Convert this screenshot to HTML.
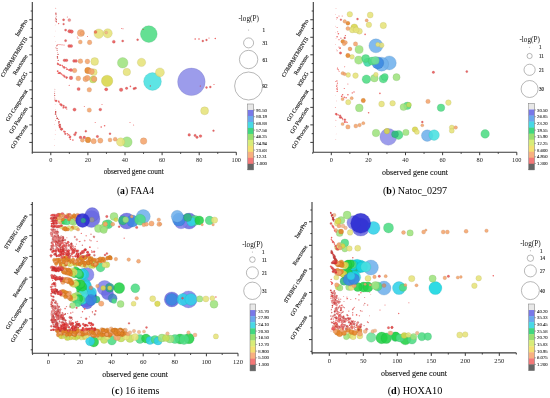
<!DOCTYPE html>
<html><head><meta charset="utf-8"><style>
html,body{margin:0;padding:0;background:#fff;width:550px;height:398px;overflow:hidden}
svg{display:block;font-family:'Liberation Serif',serif;will-change:transform}
</style></head><body>
<svg width="550" height="398" viewBox="0 0 550 398">
<rect width="550" height="398" fill="#fff"/>
<style>.r{fill:#ea5555;stroke:#af3f3f}.dr{fill:#c83a3a;stroke:#962b2b}.lr{fill:#ee8a8a;stroke:#b26767}.pr{fill:#f08484;stroke:#b46363}.or{fill:#f07050;stroke:#b4543c}.rr{fill:#e03030;stroke:#a82424}.pk{fill:#d87070;stroke:#a25454}.o{fill:#f4a46c;stroke:#b77b51}.o2{fill:#f2b486;stroke:#b58764}.do{fill:#e58428;stroke:#ab631e}.br{fill:#c49070;stroke:#936c54}.y{fill:#e6e27a;stroke:#aca95b}.oy{fill:#d8d64a;stroke:#a2a037}.yg{fill:#c4df5a;stroke:#93a743}.lg{fill:#9ee27e;stroke:#76a95e}.lg2{fill:#6fe098;stroke:#53a872}.g{fill:#4fdc84;stroke:#3ba563}.gg{fill:#22d046;stroke:#199c34}.tg{fill:#2fb87e;stroke:#238a5e}.cg{fill:#3cd8a4;stroke:#2da27b}.c{fill:#48e0e0;stroke:#36a8a8}.cy{fill:#30d0e8;stroke:#249cae}.cy2{fill:#12d6e0;stroke:#0da0a8}.lb{fill:#70b0ec;stroke:#5484b1}.bb{fill:#3a88e0;stroke:#2b66a8}.b{fill:#8e8ee8;stroke:#6a6aae}.pb{fill:#6a6ae2;stroke:#4f4fa9}.pb2{fill:#8282ea;stroke:#6161af}.pu{fill:#8080e8;stroke:#6060ae}.db{fill:#2a2ad2;stroke:#1f1f9d}.tl{fill:#2f9f8f;stroke:#23776b}.gr{fill:#959595;stroke:#6f6f6f}.bt{fill:#4080c0;stroke:#306090}</style><defs>
<clipPath id="ca"><rect x="32.8" y="2" width="204" height="149.8"/></clipPath>
<clipPath id="cb"><rect x="313.8" y="2" width="204" height="149.8"/></clipPath>
<clipPath id="cc"><rect x="32.8" y="202" width="206" height="150.9"/></clipPath>
<clipPath id="cd"><rect x="312.5" y="202" width="205" height="150.5"/></clipPath>
</defs><g clip-path="url(#ca)"><g fill-opacity="0.88" stroke-opacity=".6" stroke-width=".35"><circle class="b" cx="191.4" cy="81.8" r="13.8"/><circle class="c" cx="152.5" cy="81.5" r="8.9"/><circle class="g" cx="148.8" cy="34.1" r="8.4"/><circle class="oy" cx="107.1" cy="80.9" r="5.7"/><circle class="lg" cx="122.7" cy="62.8" r="5.3"/><circle class="lg" cx="127" cy="142" r="5.2"/><circle class="y" cx="98.8" cy="33.7" r="4.8"/><circle class="y" cx="107.7" cy="33.3" r="4.6"/><circle class="y" cx="159.9" cy="72.4" r="4.5"/><circle class="y" cx="141.5" cy="62.4" r="4.2"/><circle class="y" cx="120.6" cy="142" r="4.2"/><circle class="y" cx="204.6" cy="110.8" r="4.0"/><circle class="y" cx="94.7" cy="61.5" r="3.9"/><circle class="y" cx="126.8" cy="72" r="3.8"/><circle class="o" cx="80.9" cy="33" r="3.6"/><circle class="yg" cx="93" cy="79.5" r="3.5"/><circle class="y" cx="93.8" cy="72.2" r="3.4"/><circle class="o" cx="143.6" cy="141.1" r="3.3"/><circle class="do" cx="87.9" cy="70.5" r="3.2"/><circle class="o" cx="91.3" cy="71.6" r="3.0"/></g><g fill-opacity="0.88" stroke-opacity=".6" stroke-width=".35"><circle class="o" cx="85.7" cy="79" r="2.8"/><circle class="o" cx="94.2" cy="79" r="2.8"/><circle class="do" cx="88" cy="139.9" r="2.8"/><circle class="o" cx="87.4" cy="77.9" r="2.6"/><circle class="o" cx="93.7" cy="141.2" r="2.6"/><circle class="o" cx="100.3" cy="140.6" r="2.6"/><circle class="o" cx="80.4" cy="61.2" r="2.4"/><circle class="o" cx="87.4" cy="61.5" r="2.4"/><circle class="o" cx="78.3" cy="78.4" r="2.4"/><circle class="o" cx="89.6" cy="42.4" r="2.3"/><circle class="o" cx="74.6" cy="70.5" r="2.3"/><circle class="o" cx="89.3" cy="89.8" r="2.3"/><circle class="o" cx="89.3" cy="110.1" r="2.2"/><circle class="o" cx="82" cy="33.3" r="2.0"/><circle class="o" cx="80.3" cy="42" r="2.0"/><circle class="o" cx="82.4" cy="140.3" r="2.0"/><circle class="o" cx="110" cy="139.9" r="2.0"/><circle class="o" cx="115.2" cy="139.2" r="2.0"/><circle class="r" cx="69.6" cy="31.2" r="1.8"/><circle class="r" cx="71.6" cy="31.6" r="1.8"/><circle class="r" cx="71" cy="77.9" r="1.8"/><circle class="r" cx="121.1" cy="89.8" r="1.8"/><circle class="r" cx="71" cy="70" r="1.6"/><circle class="r" cx="106.2" cy="89.3" r="1.6"/><circle class="r" cx="78.6" cy="89" r="1.6"/><circle class="r" cx="74.5" cy="109.6" r="1.6"/><circle class="pr" cx="69.3" cy="20.1" r="1.5"/><circle class="or" cx="95.5" cy="31.9" r="1.5"/><circle class="o2" cx="106.2" cy="32.5" r="1.5"/><circle class="r" cx="113.8" cy="41.7" r="1.5"/><circle class="r" cx="69.2" cy="45.9" r="1.5"/><circle class="r" cx="71.2" cy="45.9" r="1.5"/><circle class="r" cx="64.5" cy="60.3" r="1.4"/><circle class="r" cx="66.5" cy="60.3" r="1.4"/><circle class="r" cx="74" cy="61" r="1.4"/><circle class="r" cx="76" cy="61" r="1.4"/><circle class="r" cx="100.3" cy="109.6" r="1.4"/><circle class="r" cx="80.5" cy="137.4" r="1.4"/><circle class="r" cx="200.5" cy="136.1" r="1.4"/><circle class="r" cx="84.3" cy="137.4" r="1.3"/><circle class="r" cx="189.2" cy="134.9" r="1.3"/><circle class="r" cx="126.6" cy="88.3" r="1.2"/><circle class="r" cx="74.8" cy="134.6" r="1.2"/><circle class="r" cx="97.4" cy="136.5" r="1.2"/><circle class="r" cx="195.1" cy="135.4" r="1.2"/><circle class="r" cx="197" cy="137.3" r="1.2"/></g><g fill-opacity="0.9" stroke-opacity=".6" stroke-width=".35"><circle class="r" cx="61.3" cy="129.3" r="1.1"/><circle class="r" cx="60" cy="127.1" r="1.1"/><circle class="r" cx="61.8" cy="129.1" r="1.1"/><circle class="r" cx="63.6" cy="19.8" r="1.1"/><circle class="r" cx="65.6" cy="30.1" r="1.1"/><circle class="r" cx="122.7" cy="41" r="1.1"/><circle class="r" cx="65.6" cy="40.7" r="1.1"/><circle class="r" cx="134" cy="88.7" r="1.1"/><circle class="r" cx="135.5" cy="88.2" r="1.1"/><circle class="r" cx="59.6" cy="125.4" r="1.1"/><circle class="r" cx="69.8" cy="137.2" r="1.0"/><circle class="r" cx="137.6" cy="39.7" r="1.0"/><circle class="r" cx="202.8" cy="41" r="1.0"/><circle class="r" cx="206.5" cy="87.5" r="1.0"/><circle class="r" cx="210.3" cy="87" r="1.0"/><circle class="r" cx="75.8" cy="132.7" r="1.0"/><circle class="r" cx="110" cy="133.7" r="1.0"/><circle class="r" cx="85.8" cy="131.2" r="1.0"/><circle class="r" cx="64.3" cy="67.6" r="1.0"/><circle class="r" cx="61.4" cy="105.2" r="1.0"/><circle class="r" cx="65.3" cy="133.8" r="0.9"/><circle class="r" cx="59.9" cy="72.9" r="0.9"/><circle class="r" cx="64.5" cy="76.5" r="0.9"/><circle class="r" cx="63.6" cy="105.9" r="0.9"/><circle class="r" cx="58.1" cy="64.2" r="0.9"/><circle class="r" cx="65.9" cy="107.5" r="0.9"/><circle class="r" cx="56.2" cy="100.9" r="0.9"/><circle class="r" cx="66.5" cy="77.4" r="0.9"/><circle class="r" cx="63.6" cy="24.1" r="0.9"/><circle class="r" cx="206.5" cy="40" r="0.9"/><circle class="r" cx="213.5" cy="130.7" r="0.9"/></g><g fill-opacity="0.9" stroke-width="0"><circle class="dr" cx="57.2" cy="118.3" r="0.9"/><circle class="r" cx="57.7" cy="71.2" r="0.9"/><circle class="r" cx="67" cy="69.2" r="0.9"/><circle class="r" cx="63.4" cy="107.7" r="0.9"/><circle class="r" cx="58.5" cy="73.2" r="0.9"/><circle class="dr" cx="59" cy="121.8" r="0.9"/><circle class="r" cx="58.7" cy="101.5" r="0.9"/><circle class="r" cx="60.5" cy="65.2" r="0.9"/><circle class="r" cx="66.6" cy="78" r="0.8"/><circle class="r" cx="70.4" cy="139.3" r="0.8"/><circle class="r" cx="64.5" cy="132" r="0.8"/><circle class="r" cx="59.8" cy="127.5" r="0.8"/><circle class="r" cx="61.5" cy="104.5" r="0.8"/><circle class="r" cx="63.1" cy="75.5" r="0.8"/><circle class="r" cx="64" cy="131.4" r="0.8"/><circle class="r" cx="130.4" cy="86.4" r="0.8"/><circle class="r" cx="195.2" cy="39" r="0.8"/><circle class="r" cx="199" cy="39" r="0.8"/><circle class="r" cx="215.3" cy="38.5" r="0.8"/><circle class="r" cx="101.2" cy="127" r="0.8"/><circle class="r" cx="104.6" cy="125.8" r="0.8"/><circle class="r" cx="69" cy="70.2" r="0.8"/><circle class="r" cx="59.5" cy="73.1" r="0.8"/><circle class="dr" cx="56.2" cy="21.2" r="0.8"/><circle class="r" cx="72.9" cy="140.1" r="0.8"/><circle class="r" cx="69.9" cy="69.6" r="0.8"/><circle class="r" cx="67.4" cy="133.7" r="0.8"/><circle class="r" cx="63" cy="66.7" r="0.8"/><circle class="r" cx="60.7" cy="104" r="0.8"/><circle class="r" cx="55.3" cy="100.7" r="0.8"/><circle class="r" cx="61.1" cy="73.7" r="0.8"/><circle class="dr" cx="55.7" cy="111.9" r="0.8"/><circle class="dr" cx="57.4" cy="56.7" r="0.7"/><circle class="r" cx="69.7" cy="135.3" r="0.7"/><circle class="dr" cx="58.8" cy="123.1" r="0.7"/><circle class="dr" cx="55.8" cy="114.1" r="0.7"/><circle class="r" cx="62.3" cy="65.5" r="0.7"/><circle class="r" cx="59.6" cy="65.1" r="0.7"/><circle class="dr" cx="55.9" cy="13.2" r="0.7"/><circle class="r" cx="58.6" cy="23.6" r="0.7"/><circle class="r" cx="60.1" cy="104.4" r="0.7"/><circle class="dr" cx="57.5" cy="58" r="0.7"/><circle class="r" cx="62" cy="74.5" r="0.7"/><circle class="r" cx="70.6" cy="136.8" r="0.7"/><circle class="r" cx="68.5" cy="134.6" r="0.7"/><circle class="r" cx="61.2" cy="129.2" r="0.7"/><circle class="dr" cx="58" cy="54.4" r="0.7"/><circle class="r" cx="57.5" cy="63.3" r="0.7"/><circle class="r" cx="65.2" cy="131.7" r="0.6"/><circle class="dr" cx="55.4" cy="113.9" r="0.6"/><circle class="r" cx="68.1" cy="69.5" r="0.6"/><circle class="r" cx="63.9" cy="75.1" r="0.6"/><circle class="r" cx="59.4" cy="102.8" r="0.6"/><circle class="r" cx="67.9" cy="135.3" r="0.6"/><circle class="dr" cx="143.1" cy="29.5" r="0.6"/><circle class="r" cx="58" cy="44.5" r="0.6"/><circle class="r" cx="60" cy="44.6" r="0.6"/><circle class="r" cx="62" cy="44.8" r="0.6"/><circle class="r" cx="64" cy="45" r="0.6"/><circle class="dr" cx="150.3" cy="85.9" r="0.6"/><circle class="dr" cx="200.3" cy="86" r="0.6"/><circle class="r" cx="209" cy="38" r="0.6"/><circle class="r" cx="214" cy="84.5" r="0.6"/><circle class="r" cx="69.2" cy="85.3" r="0.6"/><circle class="dr" cx="57" cy="48.7" r="0.6"/><circle class="r" cx="66.8" cy="109.1" r="0.6"/><circle class="r" cx="66.1" cy="67.7" r="0.6"/><circle class="dr" cx="54.7" cy="95.3" r="0.6"/><circle class="dr" cx="56" cy="14.7" r="0.6"/><circle class="dr" cx="56.3" cy="19.4" r="0.6"/><circle class="dr" cx="55.5" cy="112.1" r="0.6"/><circle class="r" cx="56.7" cy="100.5" r="0.6"/><circle class="dr" cx="55.8" cy="18.2" r="0.6"/><circle class="dr" cx="58.2" cy="60.4" r="0.6"/><circle class="dr" cx="56.5" cy="116.1" r="0.6"/><circle class="dr" cx="57" cy="45.4" r="0.6"/><circle class="dr" cx="59.5" cy="124.6" r="0.5"/><circle class="r" cx="59" cy="64.2" r="0.5"/><circle class="r" cx="63.8" cy="66.8" r="0.5"/><circle class="r" cx="67.3" cy="77.2" r="0.5"/><circle class="dr" cx="58.7" cy="119.6" r="0.5"/><circle class="r" cx="64.3" cy="107.2" r="0.5"/><circle class="r" cx="67.3" cy="17.1" r="0.5"/><circle class="r" cx="121.7" cy="28.6" r="0.5"/><circle class="r" cx="123" cy="28.8" r="0.5"/><circle class="r" cx="78" cy="38.3" r="0.5"/><circle class="r" cx="77.3" cy="37" r="0.5"/><circle class="r" cx="87.5" cy="36.5" r="0.5"/><circle class="r" cx="84.3" cy="106.4" r="0.5"/><circle class="r" cx="102" cy="104.5" r="0.5"/><circle class="r" cx="95.2" cy="122.4" r="0.5"/><circle class="r" cx="130" cy="122.6" r="0.5"/><circle class="r" cx="133.6" cy="125" r="0.5"/><circle class="lr" cx="55.5" cy="120.6" r="0.5"/><circle class="lr" cx="55.7" cy="8.2" r="0.5"/><circle class="dr" cx="57.1" cy="50.4" r="0.5"/><circle class="dr" cx="60.4" cy="124.3" r="0.5"/><circle class="lr" cx="55.2" cy="20" r="0.5"/><circle class="dr" cx="54.9" cy="99" r="0.5"/><circle class="dr" cx="54.6" cy="93.3" r="0.5"/><circle class="lr" cx="55.7" cy="47.7" r="0.5"/><circle class="dr" cx="54.9" cy="89.2" r="0.4"/><circle class="lr" cx="55.6" cy="130.1" r="0.4"/><circle class="dr" cx="56.2" cy="16.5" r="0.4"/><circle class="dr" cx="54.8" cy="91.2" r="0.4"/><circle class="lr" cx="54.5" cy="124.7" r="0.4"/><circle class="lr" cx="55.6" cy="109.8" r="0.4"/><circle class="dr" cx="56.8" cy="46.8" r="0.4"/><circle class="dr" cx="56.3" cy="22.7" r="0.4"/><circle class="dr" cx="54.8" cy="97.1" r="0.4"/><circle class="dr" cx="57.9" cy="118.1" r="0.4"/><circle class="lr" cx="55.2" cy="24.9" r="0.4"/><circle class="dr" cx="57.5" cy="52.3" r="0.4"/><circle class="lr" cx="55.2" cy="134.7" r="0.4"/><circle class="lr" cx="54.7" cy="145.6" r="0.4"/><circle class="lr" cx="55.3" cy="13.4" r="0.4"/><circle class="lr" cx="55.6" cy="31" r="0.3"/><circle class="lr" cx="54.7" cy="100" r="0.3"/><circle class="lr" cx="54.8" cy="139.7" r="0.3"/><circle class="lr" cx="55.6" cy="41.6" r="0.3"/><circle class="lr" cx="54.7" cy="36.2" r="0.3"/><circle class="lr" cx="54.9" cy="114.8" r="0.3"/><circle class="lr" cx="55.2" cy="104.4" r="0.3"/></g></g><g clip-path="url(#cb)"><g fill-opacity="0.88" stroke-opacity=".6" stroke-width=".35"><circle class="b" cx="388.3" cy="136.9" r="8.4"/><circle class="lb" cx="375.9" cy="45.8" r="7.0"/><circle class="lb" cx="389.3" cy="62.9" r="7.0"/><circle class="lb" cx="381.6" cy="64.2" r="7.0"/><circle class="bb" cx="377.8" cy="62.9" r="6.0"/><circle class="lb" cx="427.2" cy="135.6" r="5.8"/><circle class="c" cx="434.1" cy="135.1" r="5.3"/><circle class="g" cx="398.5" cy="134.9" r="4.5"/><circle class="g" cx="366.4" cy="79.2" r="4.3"/><circle class="g" cx="485.1" cy="133.9" r="4.3"/><circle class="cg" cx="367.6" cy="62.3" r="4.2"/><circle class="lg" cx="359.1" cy="49.5" r="4.1"/><circle class="lg" cx="358.7" cy="60.1" r="4.1"/><circle class="g" cx="383.3" cy="78.8" r="4.1"/><circle class="g" cx="365.7" cy="58.5" r="4.0"/><circle class="g" cx="372.1" cy="61" r="4.0"/><circle class="lg2" cx="375.3" cy="60.4" r="4.0"/><circle class="lg" cx="359.3" cy="107.9" r="3.9"/><circle class="lg" cx="374.4" cy="78.2" r="3.8"/><circle class="g" cx="407.3" cy="105.8" r="3.8"/><circle class="g" cx="441" cy="107.7" r="3.8"/><circle class="lg" cx="376" cy="133" r="3.8"/><circle class="lg" cx="396.5" cy="77.2" r="3.6"/><circle class="oy" cx="354.3" cy="27.4" r="3.5"/><circle class="g" cx="384.8" cy="76.9" r="3.5"/><circle class="lg" cx="403.5" cy="107.1" r="3.5"/><circle class="tg" cx="395" cy="134.2" r="3.5"/><circle class="y" cx="383.3" cy="25.5" r="3.2"/><circle class="lg" cx="405.9" cy="132.4" r="3.2"/><circle class="y" cx="370.2" cy="15" r="3.0"/><circle class="y" cx="352.4" cy="29.9" r="3.0"/><circle class="y" cx="359.4" cy="31.2" r="3.0"/><circle class="y" cx="356.2" cy="29.9" r="3.0"/></g><g fill-opacity="0.88" stroke-opacity=".6" stroke-width=".35"><circle class="y" cx="381.6" cy="104" r="2.9"/><circle class="y" cx="349.8" cy="14.3" r="2.8"/><circle class="y" cx="368.9" cy="24.8" r="2.8"/><circle class="y" cx="355.5" cy="75.6" r="2.8"/><circle class="y" cx="392.6" cy="103.3" r="2.8"/><circle class="y" cx="448.4" cy="102.6" r="2.8"/><circle class="oy" cx="386.9" cy="131.1" r="2.8"/><circle class="oy" cx="415" cy="129.5" r="2.8"/><circle class="y" cx="348.2" cy="102.2" r="2.6"/><circle class="y" cx="381.6" cy="45.2" r="2.5"/><circle class="yg" cx="408.9" cy="104.8" r="2.5"/><circle class="y" cx="416.9" cy="131.9" r="2.5"/><circle class="y" cx="451.8" cy="127.5" r="2.5"/><circle class="y" cx="451.8" cy="130.7" r="2.5"/><circle class="y" cx="352" cy="56.8" r="2.4"/><circle class="y" cx="348.2" cy="75" r="2.4"/><circle class="y" cx="375.9" cy="74.6" r="2.3"/><circle class="o" cx="355.5" cy="43.9" r="2.2"/><circle class="y" cx="377.8" cy="44.5" r="2.2"/><circle class="do" cx="347.9" cy="55.5" r="2.2"/><circle class="do" cx="363.3" cy="100.5" r="2.2"/><circle class="o" cx="428" cy="101.4" r="2.2"/><circle class="o" cx="347.9" cy="126.9" r="2.2"/><circle class="do" cx="347.9" cy="23.2" r="2.0"/><circle class="o" cx="347.9" cy="28.6" r="2.0"/><circle class="do" cx="342.8" cy="41.4" r="2.0"/><circle class="o" cx="345.4" cy="42.6" r="2.0"/><circle class="o" cx="355.8" cy="126" r="2.0"/><circle class="o" cx="344.7" cy="21.4" r="1.8"/><circle class="o" cx="344.1" cy="43.9" r="1.8"/><circle class="o" cx="350.2" cy="49" r="1.8"/><circle class="o" cx="349.8" cy="48.9" r="1.8"/><circle class="o" cx="342.8" cy="73.3" r="1.8"/><circle class="o" cx="359.6" cy="125.1" r="1.8"/><circle class="o" cx="455.7" cy="127.5" r="1.8"/><circle class="o" cx="366.7" cy="20.4" r="1.6"/><circle class="o" cx="344.7" cy="74.1" r="1.6"/><circle class="o" cx="342.6" cy="99.1" r="1.6"/><circle class="o" cx="351.7" cy="98.2" r="1.6"/><circle class="o" cx="342.6" cy="124" r="1.6"/><circle class="o" cx="363.3" cy="123.2" r="1.6"/><circle class="o" cx="422.3" cy="125.3" r="1.5"/><circle class="r" cx="340.5" cy="53" r="1.2"/><circle class="r" cx="433.4" cy="72.3" r="1.2"/></g><g fill-opacity="0.9" stroke-opacity=".6" stroke-width=".35"><circle class="r" cx="466.8" cy="71.6" r="1.1"/><circle class="r" cx="357.5" cy="19.1" r="1.0"/><circle class="r" cx="422.3" cy="122.1" r="1.0"/><circle class="r" cx="336.1" cy="114.1" r="1.0"/><circle class="r" cx="341.1" cy="117.6" r="1.0"/><circle class="r" cx="344.9" cy="119.7" r="1.0"/><circle class="r" cx="340" cy="117.4" r="0.9"/><circle class="r" cx="340.1" cy="115.7" r="0.9"/><circle class="r" cx="340.9" cy="19.7" r="0.9"/><circle class="r" cx="344.7" cy="37.9" r="0.9"/></g><g fill-opacity="0.9" stroke-width="0"><circle class="r" cx="336.7" cy="114.5" r="0.9"/><circle class="r" cx="344.7" cy="122" r="0.9"/><circle class="r" cx="346" cy="122" r="0.8"/><circle class="r" cx="365.1" cy="34.4" r="0.8"/><circle class="r" cx="338.4" cy="33.7" r="0.8"/><circle class="r" cx="337.1" cy="36.7" r="0.8"/><circle class="r" cx="340.3" cy="48.1" r="0.8"/><circle class="r" cx="342.6" cy="94.7" r="0.8"/><circle class="r" cx="341.7" cy="96.4" r="0.8"/><circle class="r" cx="344.3" cy="97.3" r="0.8"/><circle class="r" cx="346.1" cy="97.7" r="0.8"/><circle class="r" cx="347.9" cy="94.7" r="0.8"/><circle class="r" cx="379.9" cy="93.4" r="0.8"/><circle class="r" cx="368.6" cy="112.8" r="0.8"/><circle class="r" cx="338.3" cy="114.9" r="0.7"/><circle class="r" cx="337.2" cy="91.4" r="0.7"/><circle class="r" cx="337.1" cy="17.8" r="0.7"/><circle class="r" cx="345.4" cy="35.6" r="0.7"/><circle class="r" cx="352.3" cy="92.9" r="0.7"/><circle class="r" cx="354" cy="92" r="0.7"/><circle class="r" cx="337.5" cy="68.9" r="0.7"/><circle class="r" cx="337.2" cy="89.6" r="0.7"/><circle class="r" cx="336.9" cy="80.9" r="0.7"/><circle class="r" cx="338.5" cy="69.8" r="0.6"/><circle class="r" cx="337.4" cy="83.2" r="0.6"/><circle class="r" cx="342.6" cy="118.4" r="0.6"/><circle class="r" cx="336.9" cy="88.5" r="0.6"/><circle class="r" cx="336.9" cy="85.7" r="0.6"/><circle class="r" cx="347.2" cy="122.4" r="0.6"/><circle class="r" cx="340.9" cy="38.2" r="0.6"/><circle class="r" cx="339" cy="39.7" r="0.6"/><circle class="r" cx="339" cy="47.1" r="0.6"/><circle class="r" cx="344.3" cy="88.5" r="0.6"/><circle class="r" cx="342.8" cy="119.7" r="0.6"/><circle class="r" cx="336.6" cy="86.4" r="0.5"/><circle class="r" cx="339" cy="15.9" r="0.5"/><circle class="r" cx="342.2" cy="15.9" r="0.5"/><circle class="r" cx="337.1" cy="27.4" r="0.5"/><circle class="r" cx="337.7" cy="31.8" r="0.5"/><circle class="r" cx="337.1" cy="50.8" r="0.5"/><circle class="r" cx="339.6" cy="48.3" r="0.5"/><circle class="r" cx="335.8" cy="81.4" r="0.5"/><circle class="r" cx="347.9" cy="83.9" r="0.5"/><circle class="r" cx="344.7" cy="66.7" r="0.5"/><circle class="lr" cx="335.9" cy="120.2" r="0.5"/><circle class="r" cx="337.3" cy="87.8" r="0.5"/><circle class="r" cx="339.1" cy="71.2" r="0.5"/><circle class="lr" cx="335.4" cy="107.6" r="0.5"/><circle class="lr" cx="336.5" cy="19.6" r="0.4"/><circle class="lr" cx="336.5" cy="100.9" r="0.4"/><circle class="lr" cx="335.5" cy="14.4" r="0.4"/><circle class="lr" cx="335.6" cy="113.9" r="0.4"/><circle class="lr" cx="336" cy="8.5" r="0.4"/><circle class="r" cx="337.4" cy="67.7" r="0.4"/><circle class="r" cx="337" cy="84.4" r="0.4"/><circle class="r" cx="337" cy="89.8" r="0.4"/><circle class="lr" cx="335.8" cy="139.4" r="0.4"/><circle class="lr" cx="335.7" cy="44.5" r="0.4"/><circle class="lr" cx="336.3" cy="49.4" r="0.4"/><circle class="lr" cx="335.6" cy="126.6" r="0.4"/><circle class="lr" cx="335.5" cy="26.2" r="0.4"/><circle class="lr" cx="336" cy="38.4" r="0.3"/><circle class="lr" cx="336.1" cy="133.9" r="0.3"/><circle class="lr" cx="335.7" cy="32.5" r="0.3"/><circle class="lr" cx="335.6" cy="95.2" r="0.3"/></g></g><g clip-path="url(#cc)"><g fill-opacity="0.88" stroke-opacity=".6" stroke-width=".35"><circle class="db" cx="86.5" cy="297" r="10.2"/><circle class="pb" cx="91.5" cy="219.1" r="8.5"/><circle class="pb2" cx="188.5" cy="299.4" r="8.5"/><circle class="pb" cx="126.7" cy="221" r="8.0"/><circle class="pb" cx="189.1" cy="221.1" r="8.0"/><circle class="pb2" cx="104.6" cy="288" r="7.5"/><circle class="pb" cx="171.8" cy="299.4" r="7.5"/><circle class="pb2" cx="86.8" cy="274.7" r="7.2"/><circle class="pb" cx="92.2" cy="214.6" r="7.0"/><circle class="lb" cx="143.3" cy="216.5" r="7.0"/><circle class="pu" cx="181.1" cy="221.8" r="7.0"/><circle class="bb" cx="178.9" cy="219.6" r="6.5"/><circle class="bb" cx="132.5" cy="221" r="6.0"/><circle class="lb" cx="177.2" cy="216.3" r="6.0"/><circle class="pb" cx="87" cy="303" r="6.0"/><circle class="pb" cx="107.5" cy="293.8" r="6.0"/><circle class="bb" cx="171.8" cy="299.4" r="6.0"/><circle class="cy" cx="183" cy="299.4" r="6.0"/><circle class="cy" cx="190.9" cy="299.4" r="6.0"/><circle class="cy" cx="84.7" cy="284.5" r="5.9"/><circle class="cy" cx="82.2" cy="299.2" r="5.5"/><circle class="g" cx="140.1" cy="219.7" r="5.5"/><circle class="cy" cx="86" cy="286" r="5.5"/><circle class="gg" cx="119.2" cy="288" r="5.5"/><circle class="cy" cx="83.5" cy="274.6" r="5.5"/><circle class="cy" cx="82.5" cy="274" r="5.4"/><circle class="cy" cx="85.1" cy="286.4" r="5.4"/><circle class="gg" cx="189" cy="338.5" r="5.2"/><circle class="cy" cx="81.3" cy="274.6" r="5.2"/><circle class="cy" cx="83.2" cy="298.8" r="5.0"/><circle class="g" cx="194.9" cy="220.4" r="5.0"/><circle class="gg" cx="81.5" cy="290" r="5.0"/><circle class="c" cx="83.5" cy="294" r="5.0"/><circle class="gg" cx="93.7" cy="341.9" r="5.0"/><circle class="gg" cx="180" cy="339" r="5.0"/><circle class="g" cx="184" cy="339.5" r="5.0"/><circle class="gg" cx="75.9" cy="271.8" r="4.7"/><circle class="gg" cx="76.8" cy="298" r="4.5"/><circle class="g" cx="108.3" cy="224.2" r="4.5"/><circle class="tg" cx="122.9" cy="220.4" r="4.5"/><circle class="cy" cx="191.3" cy="221.8" r="4.5"/><circle class="gg" cx="199.3" cy="220.4" r="4.5"/><circle class="g" cx="100.5" cy="267.4" r="4.5"/><circle class="cy" cx="92" cy="292" r="4.5"/><circle class="tl" cx="109.7" cy="287.7" r="4.5"/><circle class="bt" cx="112.6" cy="298.2" r="4.5"/><circle class="g" cx="135.3" cy="288.2" r="4.5"/><circle class="cy" cx="90.1" cy="341.2" r="4.5"/><circle class="g" cx="111.9" cy="340.5" r="4.5"/><circle class="g" cx="140" cy="339" r="4.5"/><circle class="gg" cx="146" cy="338.5" r="4.5"/><circle class="g" cx="175" cy="339" r="4.5"/><circle class="gg" cx="82.3" cy="286.7" r="4.5"/><circle class="g" cx="75.9" cy="299.1" r="4.3"/><circle class="lg" cx="77.4" cy="296.2" r="4.3"/><circle class="g" cx="209.5" cy="220.4" r="4.3"/><circle class="gg" cx="78.8" cy="285.3" r="4.3"/><circle class="g" cx="80.6" cy="299.6" r="4.1"/><circle class="lg" cx="80.3" cy="283.4" r="4.1"/><circle class="gg" cx="74.8" cy="273.8" r="4.0"/><circle class="gg" cx="78.8" cy="298.6" r="4.0"/><circle class="g" cx="106.2" cy="224.2" r="4.0"/><circle class="lg" cx="98.5" cy="228.6" r="4.0"/><circle class="lg" cx="103.6" cy="228" r="4.0"/><circle class="lg" cx="114" cy="216.5" r="4.0"/><circle class="tg" cx="187.6" cy="217.5" r="4.0"/><circle class="lg" cx="214" cy="304.2" r="4.0"/><circle class="yg" cx="121" cy="338" r="4.0"/><circle class="yg" cx="130" cy="338.5" r="4.0"/><circle class="cy" cx="150" cy="340.5" r="4.0"/><circle class="g" cx="155" cy="339.5" r="4.0"/><circle class="cy" cx="158" cy="341" r="4.0"/><circle class="lg" cx="162" cy="338" r="4.0"/><circle class="lg" cx="170" cy="339" r="4.0"/><circle class="lg" cx="74.4" cy="273.1" r="4.0"/><circle class="gg" cx="80.9" cy="284.1" r="4.0"/><circle class="gg" cx="79.8" cy="274.7" r="4.0"/><circle class="gg" cx="78.2" cy="272.7" r="3.9"/><circle class="gg" cx="77.3" cy="272.9" r="3.9"/><circle class="g" cx="78.6" cy="273.6" r="3.8"/><circle class="gg" cx="76.7" cy="283.2" r="3.7"/><circle class="lg" cx="103.8" cy="229.9" r="3.5"/><circle class="tg" cx="96.5" cy="299.4" r="3.5"/><circle class="g" cx="76" cy="299" r="3.5"/><circle class="lg" cx="120.6" cy="304" r="3.5"/><circle class="yg" cx="100.3" cy="336.8" r="3.5"/><circle class="yg" cx="104" cy="340" r="3.5"/><circle class="o" cx="117" cy="337" r="3.5"/><circle class="y" cx="126" cy="336.5" r="3.5"/><circle class="y" cx="135" cy="337" r="3.5"/><circle class="yg" cx="166" cy="338" r="3.5"/><circle class="lg" cx="74" cy="222" r="3.3"/><circle class="lg" cx="71.5" cy="221.5" r="3.2"/><circle class="y" cx="214.5" cy="220.1" r="3.2"/><circle class="g" cx="78" cy="303.5" r="3.2"/><circle class="lg" cx="199.7" cy="298.9" r="3.2"/><circle class="y" cx="74.1" cy="272.2" r="3.2"/><circle class="y" cx="74.5" cy="284" r="3.1"/><circle class="y" cx="71.7" cy="273.1" r="3.1"/><circle class="yg" cx="71.7" cy="298.4" r="3.0"/><circle class="y" cx="72.2" cy="270.7" r="3.0"/><circle class="gg" cx="64" cy="221.5" r="3.0"/><circle class="g" cx="67" cy="222" r="3.0"/><circle class="lg" cx="125.7" cy="219.7" r="3.0"/><circle class="yg" cx="106.8" cy="264.8" r="3.0"/><circle class="lg" cx="72.6" cy="305.5" r="3.0"/><circle class="y" cx="152.7" cy="298.7" r="3.0"/><circle class="y" cx="205.9" cy="298.9" r="3.0"/><circle class="y" cx="107.5" cy="336.8" r="3.0"/></g><g fill-opacity="0.88" stroke-opacity=".6" stroke-width=".35"><circle class="y" cx="72.7" cy="282.8" r="3.0"/><circle class="yg" cx="73.8" cy="284.4" r="2.9"/><circle class="yg" cx="73.6" cy="271.8" r="2.9"/><circle class="y" cx="72.3" cy="284" r="2.8"/><circle class="y" cx="75.2" cy="283.1" r="2.8"/><circle class="oy" cx="157.4" cy="303.7" r="2.8"/><circle class="oy" cx="70.9" cy="273.2" r="2.7"/><circle class="o" cx="101.2" cy="303.6" r="2.7"/><circle class="oy" cx="72.9" cy="297.4" r="2.7"/><circle class="y" cx="70.5" cy="297.1" r="2.6"/><circle class="y" cx="74.8" cy="297.4" r="2.6"/><circle class="yg" cx="72.9" cy="273.9" r="2.6"/><circle class="o" cx="151.5" cy="223.5" r="2.6"/><circle class="y" cx="215.9" cy="336.4" r="2.6"/><circle class="gr" cx="91.9" cy="219.7" r="2.5"/><circle class="y" cx="104.5" cy="265.1" r="2.5"/><circle class="yg" cx="95" cy="262" r="2.5"/><circle class="oy" cx="103.2" cy="288" r="2.5"/><circle class="g" cx="114.1" cy="301" r="2.5"/><circle class="y" cx="133.6" cy="303.7" r="2.5"/><circle class="y" cx="212.3" cy="298.2" r="2.5"/><circle class="y" cx="72.5" cy="298.7" r="2.5"/><circle class="yg" cx="74" cy="295.6" r="2.4"/><circle class="yg" cx="76.7" cy="284" r="2.4"/><circle class="y" cx="90" cy="262" r="2.4"/><circle class="do" cx="65.9" cy="279.7" r="2.4"/><circle class="do" cx="70.5" cy="298.4" r="2.4"/><circle class="oy" cx="93.1" cy="266.2" r="2.4"/><circle class="o" cx="68.8" cy="297.3" r="2.3"/><circle class="do" cx="70.4" cy="273.9" r="2.3"/><circle class="do" cx="67.7" cy="280.9" r="2.3"/><circle class="oy" cx="105.1" cy="223.9" r="2.3"/><circle class="o" cx="159.2" cy="224.2" r="2.3"/><circle class="y" cx="84" cy="264" r="2.3"/><circle class="oy" cx="109.7" cy="288" r="2.3"/><circle class="do" cx="95" cy="264.9" r="2.3"/><circle class="oy" cx="75.1" cy="336.6" r="2.3"/><circle class="yg" cx="69.8" cy="264.4" r="2.3"/><circle class="do" cx="71.9" cy="283.1" r="2.3"/><circle class="oy" cx="61.9" cy="336.8" r="2.2"/><circle class="do" cx="62.7" cy="269.3" r="2.2"/><circle class="do" cx="62.1" cy="291.7" r="2.2"/><circle class="do" cx="66" cy="264.1" r="2.2"/><circle class="y" cx="78.6" cy="337" r="2.2"/><circle class="o" cx="61.5" cy="294.3" r="2.2"/><circle class="oy" cx="66.8" cy="338.2" r="2.2"/><circle class="o" cx="90.1" cy="263" r="2.2"/><circle class="do" cx="103.2" cy="331.3" r="2.2"/><circle class="do" cx="62.2" cy="268.3" r="2.2"/><circle class="do" cx="64.9" cy="264.3" r="2.2"/><circle class="o" cx="119" cy="333.5" r="2.2"/><circle class="do" cx="98.4" cy="331.5" r="2.2"/><circle class="do" cx="89.7" cy="262.2" r="2.2"/><circle class="do" cx="68.7" cy="333.8" r="2.2"/><circle class="do" cx="68.4" cy="261.1" r="2.2"/><circle class="do" cx="78.3" cy="259.6" r="2.2"/><circle class="do" cx="63.7" cy="291.7" r="2.2"/><circle class="do" cx="73.8" cy="335" r="2.2"/><circle class="do" cx="58.1" cy="260.2" r="2.2"/><circle class="do" cx="122" cy="332.2" r="2.2"/><circle class="do" cx="64.9" cy="334" r="2.2"/><circle class="do" cx="92.2" cy="334.7" r="2.2"/><circle class="do" cx="93.7" cy="335.4" r="2.2"/><circle class="do" cx="58.5" cy="334.8" r="2.2"/><circle class="do" cx="121.2" cy="330.5" r="2.2"/><circle class="do" cx="98.7" cy="260.3" r="2.2"/><circle class="o" cx="62.9" cy="282.3" r="2.2"/><circle class="do" cx="76.9" cy="329.7" r="2.2"/><circle class="do" cx="83" cy="332.1" r="2.2"/><circle class="y" cx="69.1" cy="336.7" r="2.2"/><circle class="do" cx="85.2" cy="257.3" r="2.2"/><circle class="o" cx="67.9" cy="279.2" r="2.2"/><circle class="o" cx="96.9" cy="335.5" r="2.2"/><circle class="do" cx="93.4" cy="331.3" r="2.2"/><circle class="do" cx="65.7" cy="229" r="2.2"/><circle class="do" cx="91.3" cy="332.4" r="2.2"/><circle class="y" cx="71.2" cy="264.1" r="2.2"/><circle class="y" cx="73.6" cy="227.5" r="2.2"/><circle class="do" cx="85.3" cy="264" r="2.2"/><circle class="do" cx="75.6" cy="330.9" r="2.1"/><circle class="do" cx="115.1" cy="332.6" r="2.1"/><circle class="do" cx="73.8" cy="333.6" r="2.1"/><circle class="o" cx="107.2" cy="334.6" r="2.1"/><circle class="o" cx="122.3" cy="334.1" r="2.1"/><circle class="do" cx="94.6" cy="335.3" r="2.1"/><circle class="do" cx="68.3" cy="332.4" r="2.1"/><circle class="do" cx="109.7" cy="335.3" r="2.1"/><circle class="y" cx="83.4" cy="336.4" r="2.1"/><circle class="do" cx="69.1" cy="270.5" r="2.1"/><circle class="do" cx="124.3" cy="330.6" r="2.1"/><circle class="do" cx="69.1" cy="334.2" r="2.1"/><circle class="do" cx="119" cy="333.6" r="2.1"/><circle class="o" cx="69.5" cy="293.1" r="2.1"/><circle class="do" cx="92.2" cy="332.3" r="2.1"/><circle class="do" cx="70.4" cy="332.3" r="2.1"/><circle class="do" cx="114.8" cy="330.1" r="2.1"/><circle class="o" cx="85.3" cy="329.9" r="2.1"/><circle class="do" cx="66" cy="270" r="2.1"/><circle class="do" cx="59.7" cy="260" r="2.1"/><circle class="do" cx="120.2" cy="329.9" r="2.1"/><circle class="do" cx="57.6" cy="330.9" r="2.1"/><circle class="do" cx="117.2" cy="331.8" r="2.1"/><circle class="do" cx="65.2" cy="269.5" r="2.1"/><circle class="do" cx="81.1" cy="333.8" r="2.1"/><circle class="do" cx="64.6" cy="331.1" r="2.1"/><circle class="do" cx="84.9" cy="263.1" r="2.1"/><circle class="do" cx="109.9" cy="257.5" r="2.1"/><circle class="do" cx="119.6" cy="333.3" r="2.1"/><circle class="do" cx="62.1" cy="279.9" r="2.1"/><circle class="do" cx="70.2" cy="296.8" r="2.1"/><circle class="do" cx="67.1" cy="281.2" r="2.1"/><circle class="do" cx="66.9" cy="332.4" r="2.1"/><circle class="do" cx="74.2" cy="332.4" r="2.1"/><circle class="do" cx="61" cy="264.1" r="2.1"/><circle class="do" cx="105.8" cy="334.6" r="2.1"/><circle class="do" cx="95.8" cy="331.1" r="2.1"/><circle class="do" cx="102.6" cy="259" r="2.1"/><circle class="do" cx="96.9" cy="330.8" r="2.1"/><circle class="do" cx="105.3" cy="333" r="2.1"/><circle class="do" cx="90.6" cy="259.3" r="2.1"/><circle class="do" cx="94.1" cy="330.1" r="2.1"/><circle class="do" cx="67.2" cy="272" r="2.1"/><circle class="do" cx="70.6" cy="261.4" r="2.1"/><circle class="do" cx="74.7" cy="333.7" r="2.1"/><circle class="yg" cx="90.7" cy="266.4" r="2.1"/><circle class="do" cx="75.1" cy="334.3" r="2.1"/><circle class="do" cx="63.9" cy="228.5" r="2.1"/><circle class="do" cx="64.7" cy="258" r="2.1"/><circle class="do" cx="108.4" cy="334.8" r="2.1"/><circle class="do" cx="102" cy="333.5" r="2.1"/><circle class="do" cx="119.3" cy="331.9" r="2.1"/><circle class="do" cx="57.2" cy="330.1" r="2.1"/><circle class="do" cx="86.5" cy="331.3" r="2.1"/><circle class="do" cx="70.5" cy="280.3" r="2.1"/><circle class="do" cx="67.4" cy="273.2" r="2.1"/><circle class="do" cx="115.2" cy="330.3" r="2.1"/><circle class="do" cx="66.9" cy="292.9" r="2.0"/><circle class="do" cx="80.5" cy="264.3" r="2.0"/><circle class="do" cx="119.9" cy="330.4" r="2.0"/><circle class="oy" cx="85.7" cy="266" r="2.0"/><circle class="do" cx="91.2" cy="261.3" r="2.0"/><circle class="o" cx="66.5" cy="273" r="2.0"/><circle class="do" cx="63.7" cy="258.6" r="2.0"/><circle class="do" cx="73.7" cy="332.1" r="2.0"/><circle class="do" cx="73.6" cy="330.9" r="2.0"/><circle class="o" cx="74.8" cy="263.4" r="2.0"/><circle class="do" cx="77.2" cy="331.7" r="2.0"/><circle class="do" cx="57" cy="262.1" r="2.0"/><circle class="o" cx="64.3" cy="330.4" r="2.0"/><circle class="o" cx="81.4" cy="259.9" r="2.0"/><circle class="o" cx="64.3" cy="332.7" r="2.0"/><circle class="do" cx="125.7" cy="333.2" r="2.0"/><circle class="do" cx="90.5" cy="331.3" r="2.0"/><circle class="o" cx="109.8" cy="332.3" r="2.0"/><circle class="do" cx="69.2" cy="333.9" r="2.0"/><circle class="do" cx="68.8" cy="281.9" r="2.0"/><circle class="do" cx="74.5" cy="262.5" r="2.0"/><circle class="do" cx="64.3" cy="272.1" r="2.0"/><circle class="do" cx="110" cy="257.6" r="2.0"/><circle class="o" cx="67.9" cy="296.5" r="2.0"/><circle class="do" cx="65.7" cy="292.6" r="2.0"/><circle class="do" cx="64.1" cy="262.2" r="2.0"/><circle class="oy" cx="78.1" cy="337" r="2.0"/><circle class="do" cx="118" cy="332.8" r="2.0"/><circle class="yg" cx="88.9" cy="264.8" r="2.0"/><circle class="do" cx="69" cy="219" r="2.0"/><circle class="o" cx="76" cy="219" r="2.0"/><circle class="o" cx="105.5" cy="224.2" r="2.0"/><circle class="o" cx="112.7" cy="224.2" r="2.0"/><circle class="oy" cx="115.9" cy="219.7" r="2.0"/><circle class="o" cx="143.9" cy="224.8" r="2.0"/><circle class="o" cx="146.5" cy="224.2" r="2.0"/><circle class="o" cx="138.5" cy="261.3" r="2.0"/><circle class="br" cx="90.9" cy="287.8" r="2.0"/><circle class="o2" cx="195" cy="335" r="2.0"/><circle class="do" cx="118" cy="334" r="2.0"/><circle class="do" cx="123" cy="334.5" r="2.0"/><circle class="o" cx="128" cy="334" r="2.0"/><circle class="o2" cx="101.7" cy="329.5" r="2.0"/><circle class="o2" cx="111.2" cy="328.8" r="2.0"/><circle class="o2" cx="114.8" cy="331" r="2.0"/><circle class="do" cx="101.8" cy="335" r="2.0"/><circle class="do" cx="104.3" cy="332.9" r="2.0"/><circle class="o" cx="56.3" cy="260.3" r="2.0"/><circle class="do" cx="84.1" cy="334.3" r="2.0"/><circle class="do" cx="71.3" cy="283.6" r="2.0"/><circle class="do" cx="70.3" cy="271.9" r="2.0"/><circle class="do" cx="67.5" cy="259.1" r="2.0"/><circle class="do" cx="65.4" cy="272.4" r="2.0"/><circle class="do" cx="65.4" cy="262" r="2.0"/><circle class="do" cx="71.1" cy="282.4" r="2.0"/><circle class="o" cx="78.3" cy="260" r="2.0"/><circle class="do" cx="69.4" cy="280.2" r="2.0"/><circle class="do" cx="75.2" cy="216.6" r="2.0"/><circle class="do" cx="68.5" cy="269.8" r="2.0"/><circle class="do" cx="70.9" cy="333.8" r="1.9"/><circle class="do" cx="56.9" cy="260.5" r="1.9"/><circle class="do" cx="73.9" cy="334.2" r="1.9"/><circle class="do" cx="63.1" cy="271.4" r="1.9"/><circle class="do" cx="108" cy="333.6" r="1.9"/><circle class="y" cx="87.6" cy="265.2" r="1.9"/><circle class="do" cx="107.4" cy="329.8" r="1.9"/><circle class="do" cx="74.7" cy="334.8" r="1.9"/><circle class="do" cx="92.9" cy="329.8" r="1.9"/><circle class="do" cx="61.2" cy="335.2" r="1.9"/><circle class="do" cx="64.5" cy="334.7" r="1.9"/><circle class="o" cx="83.4" cy="332" r="1.9"/><circle class="do" cx="69.6" cy="271" r="1.9"/><circle class="o" cx="82.4" cy="262.3" r="1.9"/><circle class="do" cx="73.1" cy="260" r="1.9"/><circle class="do" cx="103.9" cy="330" r="1.9"/><circle class="do" cx="68.3" cy="273.1" r="1.9"/><circle class="o" cx="90.2" cy="330.2" r="1.9"/><circle class="y" cx="75.6" cy="265" r="1.9"/><circle class="oy" cx="80.8" cy="336.5" r="1.9"/><circle class="do" cx="116.4" cy="332.5" r="1.9"/><circle class="do" cx="64.7" cy="294.9" r="1.9"/><circle class="do" cx="107.1" cy="332.3" r="1.9"/><circle class="do" cx="96.8" cy="261.4" r="1.9"/><circle class="do" cx="78.4" cy="330.9" r="1.9"/><circle class="do" cx="64.3" cy="280.6" r="1.9"/><circle class="do" cx="62.4" cy="330.3" r="1.9"/><circle class="do" cx="66.4" cy="334.5" r="1.9"/><circle class="do" cx="68.9" cy="262.4" r="1.9"/><circle class="o" cx="64" cy="260.9" r="1.9"/><circle class="y" cx="76" cy="228" r="1.9"/><circle class="do" cx="62.7" cy="331.6" r="1.9"/><circle class="yg" cx="68.3" cy="338.5" r="1.9"/><circle class="do" cx="104.3" cy="331.5" r="1.9"/><circle class="do" cx="56.6" cy="219" r="1.9"/><circle class="oy" cx="84" cy="337.9" r="1.9"/><circle class="do" cx="116.9" cy="330.5" r="1.9"/><circle class="do" cx="82.3" cy="334.5" r="1.9"/><circle class="do" cx="88.1" cy="334.8" r="1.9"/><circle class="o" cx="63.9" cy="279.2" r="1.9"/><circle class="o" cx="75.7" cy="329.5" r="1.9"/><circle class="o" cx="84.4" cy="264.8" r="1.9"/><circle class="do" cx="65.5" cy="228.5" r="1.9"/><circle class="do" cx="76.1" cy="332.8" r="1.9"/><circle class="r" cx="62.3" cy="214.3" r="1.9"/><circle class="do" cx="111.6" cy="333.7" r="1.9"/><circle class="do" cx="104" cy="260.6" r="1.9"/><circle class="do" cx="86.1" cy="333.5" r="1.9"/><circle class="do" cx="117.4" cy="330.6" r="1.9"/><circle class="do" cx="66.4" cy="295.7" r="1.9"/><circle class="do" cx="112.5" cy="330.2" r="1.9"/><circle class="do" cx="90.7" cy="330" r="1.9"/><circle class="do" cx="120.2" cy="331.7" r="1.9"/><circle class="do" cx="81.7" cy="333.8" r="1.9"/><circle class="do" cx="91.4" cy="258.3" r="1.9"/><circle class="o" cx="64.3" cy="270.8" r="1.8"/><circle class="do" cx="82.1" cy="262" r="1.8"/><circle class="do" cx="80.6" cy="332.8" r="1.8"/><circle class="do" cx="65.4" cy="329.5" r="1.8"/><circle class="do" cx="81.2" cy="257" r="1.8"/><circle class="o" cx="113.2" cy="333.7" r="1.8"/><circle class="do" cx="88.9" cy="257.1" r="1.8"/><circle class="oy" cx="79.2" cy="264.2" r="1.8"/><circle class="y" cx="77" cy="228.4" r="1.8"/><circle class="do" cx="106.4" cy="334.4" r="1.8"/><circle class="y" cx="61" cy="227.1" r="1.8"/><circle class="do" cx="116.7" cy="334.3" r="1.8"/><circle class="do" cx="63.8" cy="294.5" r="1.8"/><circle class="do" cx="80.5" cy="258.6" r="1.8"/><circle class="do" cx="77" cy="261" r="1.8"/><circle class="o" cx="79.5" cy="333.9" r="1.8"/><circle class="do" cx="122.2" cy="331.4" r="1.8"/><circle class="do" cx="114" cy="332.2" r="1.8"/><circle class="o" cx="68.4" cy="294.3" r="1.8"/><circle class="y" cx="72.2" cy="337.8" r="1.8"/><circle class="o" cx="77.4" cy="215" r="1.8"/><circle class="o" cx="90.4" cy="332.2" r="1.8"/><circle class="do" cx="73.9" cy="330.6" r="1.8"/><circle class="o" cx="55" cy="261.4" r="1.8"/><circle class="o" cx="96.5" cy="332.1" r="1.8"/><circle class="do" cx="71.6" cy="216.9" r="1.8"/><circle class="do" cx="65.4" cy="297" r="1.8"/><circle class="do" cx="63.8" cy="272.4" r="1.8"/><circle class="r" cx="58.9" cy="215.1" r="1.8"/><circle class="o" cx="60" cy="222.5" r="1.8"/><circle class="o" cx="158.8" cy="219.7" r="1.8"/><circle class="o" cx="115.9" cy="259.1" r="1.8"/><circle class="o" cx="128.7" cy="259.6" r="1.8"/><circle class="o" cx="97.4" cy="286.1" r="1.8"/><circle class="o" cx="136.7" cy="298.2" r="1.8"/><circle class="o2" cx="120.5" cy="331.5" r="1.8"/><circle class="o2" cx="125.7" cy="330" r="1.8"/><circle class="o2" cx="130" cy="332.5" r="1.8"/><circle class="o2" cx="139" cy="332" r="1.8"/><circle class="o2" cx="167.5" cy="333.5" r="1.8"/><circle class="o2" cx="188.5" cy="332.6" r="1.8"/><circle class="do" cx="60.3" cy="330.1" r="1.8"/><circle class="do" cx="121.7" cy="334.9" r="1.8"/><circle class="o" cx="80" cy="330.9" r="1.8"/><circle class="do" cx="109.3" cy="257.6" r="1.8"/><circle class="do" cx="72.1" cy="227.9" r="1.8"/><circle class="do" cx="121.3" cy="332.9" r="1.8"/><circle class="y" cx="82.7" cy="265.8" r="1.8"/><circle class="yg" cx="76.2" cy="338.6" r="1.8"/><circle class="r" cx="66.9" cy="216.7" r="1.8"/><circle class="do" cx="59.1" cy="215" r="1.8"/><circle class="o" cx="104" cy="331.4" r="1.8"/><circle class="o" cx="85.6" cy="331.3" r="1.8"/><circle class="do" cx="63.1" cy="330.5" r="1.8"/><circle class="do" cx="107.6" cy="257.9" r="1.8"/><circle class="do" cx="88.3" cy="263.5" r="1.8"/><circle class="o" cx="114.8" cy="331.8" r="1.8"/><circle class="o" cx="64" cy="215.9" r="1.8"/><circle class="do" cx="84.2" cy="264.9" r="1.8"/><circle class="do" cx="116.5" cy="334.1" r="1.8"/><circle class="do" cx="64.9" cy="280.4" r="1.8"/><circle class="do" cx="72.5" cy="216.9" r="1.8"/><circle class="o" cx="66.5" cy="280.9" r="1.8"/><circle class="do" cx="74.1" cy="215.4" r="1.8"/><circle class="o" cx="92.9" cy="334.7" r="1.8"/><circle class="o" cx="119.5" cy="331" r="1.8"/><circle class="o" cx="67.8" cy="215.1" r="1.8"/><circle class="do" cx="98.8" cy="259.5" r="1.7"/><circle class="do" cx="64.4" cy="333.6" r="1.7"/><circle class="o" cx="62.7" cy="294.5" r="1.7"/><circle class="do" cx="90.6" cy="260.5" r="1.7"/><circle class="o" cx="64.5" cy="333.1" r="1.7"/><circle class="do" cx="82.9" cy="259.9" r="1.7"/><circle class="do" cx="68.5" cy="215.4" r="1.7"/><circle class="o" cx="74" cy="333.8" r="1.7"/><circle class="y" cx="63.7" cy="336.7" r="1.7"/><circle class="y" cx="81.3" cy="338.4" r="1.7"/><circle class="do" cx="70.9" cy="332.1" r="1.7"/><circle class="o" cx="60.3" cy="331.1" r="1.7"/><circle class="do" cx="96.6" cy="262.9" r="1.7"/><circle class="do" cx="63.2" cy="259.8" r="1.7"/><circle class="do" cx="81.5" cy="258.4" r="1.7"/><circle class="do" cx="81.8" cy="331.7" r="1.7"/><circle class="y" cx="81.4" cy="265.4" r="1.7"/><circle class="do" cx="76.5" cy="331" r="1.7"/><circle class="yg" cx="74.9" cy="265" r="1.7"/><circle class="do" cx="89.2" cy="261.2" r="1.7"/><circle class="o" cx="64.2" cy="216.5" r="1.7"/><circle class="do" cx="100.7" cy="261.4" r="1.7"/><circle class="do" cx="107.1" cy="258.6" r="1.7"/><circle class="do" cx="69.9" cy="334.8" r="1.7"/><circle class="do" cx="115" cy="329.8" r="1.7"/><circle class="o" cx="59.7" cy="331.3" r="1.7"/><circle class="do" cx="93.9" cy="333.6" r="1.7"/><circle class="do" cx="65.1" cy="264.2" r="1.7"/><circle class="o2" cx="134" cy="331" r="1.7"/><circle class="do" cx="117.8" cy="331.6" r="1.7"/><circle class="do" cx="98.1" cy="335.3" r="1.7"/><circle class="do" cx="102.6" cy="329.7" r="1.7"/><circle class="do" cx="99.9" cy="260" r="1.7"/><circle class="do" cx="106.2" cy="331" r="1.7"/><circle class="y" cx="85.5" cy="337.2" r="1.7"/><circle class="do" cx="103.4" cy="258.9" r="1.7"/><circle class="do" cx="121.8" cy="333.6" r="1.7"/><circle class="do" cx="100.2" cy="258.4" r="1.7"/><circle class="o" cx="96.7" cy="259.9" r="1.7"/><circle class="do" cx="85.1" cy="258" r="1.7"/><circle class="o" cx="65.2" cy="335.5" r="1.7"/><circle class="do" cx="75.7" cy="332.3" r="1.7"/><circle class="y" cx="71.1" cy="229.6" r="1.7"/><circle class="do" cx="74.2" cy="263.3" r="1.7"/><circle class="do" cx="121.8" cy="333.4" r="1.7"/><circle class="y" cx="68.9" cy="227.3" r="1.7"/><circle class="do" cx="62.7" cy="332.1" r="1.7"/><circle class="do" cx="89.7" cy="259.2" r="1.7"/><circle class="r" cx="69.6" cy="215" r="1.7"/><circle class="do" cx="93.7" cy="259.9" r="1.7"/><circle class="y" cx="68.1" cy="263.8" r="1.7"/><circle class="do" cx="113.7" cy="330.6" r="1.7"/><circle class="do" cx="105.8" cy="330.8" r="1.7"/><circle class="do" cx="78.9" cy="263.8" r="1.7"/><circle class="do" cx="88.4" cy="263.4" r="1.7"/><circle class="do" cx="77.6" cy="331.1" r="1.7"/><circle class="o" cx="110.8" cy="333.5" r="1.7"/><circle class="do" cx="119.3" cy="333.3" r="1.7"/><circle class="o" cx="106.8" cy="334.4" r="1.7"/><circle class="do" cx="66" cy="263.9" r="1.7"/><circle class="do" cx="113.3" cy="330.5" r="1.7"/><circle class="oy" cx="60.4" cy="336.9" r="1.7"/><circle class="yg" cx="65" cy="336.4" r="1.7"/><circle class="do" cx="66.2" cy="257" r="1.7"/><circle class="do" cx="65" cy="331.2" r="1.7"/><circle class="do" cx="54.2" cy="259.9" r="1.7"/><circle class="o" cx="55.3" cy="262.3" r="1.6"/><circle class="do" cx="66.4" cy="260.8" r="1.6"/><circle class="do" cx="115.9" cy="331.1" r="1.6"/><circle class="do" cx="74.7" cy="332.8" r="1.6"/><circle class="oy" cx="70.7" cy="338.3" r="1.6"/><circle class="do" cx="103.4" cy="334.9" r="1.6"/><circle class="o" cx="66.5" cy="263.1" r="1.6"/><circle class="o" cx="77.7" cy="215.5" r="1.6"/><circle class="o" cx="60.1" cy="333" r="1.6"/><circle class="oy" cx="73.9" cy="338.1" r="1.6"/><circle class="do" cx="92.4" cy="264.6" r="1.6"/><circle class="do" cx="66.1" cy="331.5" r="1.6"/><circle class="do" cx="58.8" cy="330.2" r="1.6"/><circle class="do" cx="67.8" cy="229.4" r="1.6"/><circle class="do" cx="66.5" cy="335" r="1.6"/><circle class="do" cx="92.3" cy="332.7" r="1.6"/><circle class="do" cx="90.5" cy="331.8" r="1.6"/><circle class="do" cx="59.9" cy="261.9" r="1.6"/><circle class="do" cx="94.8" cy="259.8" r="1.6"/><circle class="do" cx="115.3" cy="332.6" r="1.6"/><circle class="y" cx="62.9" cy="265" r="1.6"/><circle class="do" cx="61.5" cy="219.8" r="1.6"/><circle class="o" cx="78.1" cy="229.5" r="1.6"/><circle class="y" cx="87.4" cy="336.5" r="1.6"/><circle class="do" cx="110.5" cy="334.7" r="1.6"/><circle class="do" cx="90.8" cy="262.2" r="1.6"/><circle class="do" cx="102.7" cy="330.4" r="1.6"/><circle class="do" cx="98.9" cy="332.7" r="1.6"/><circle class="do" cx="68.4" cy="330.9" r="1.6"/><circle class="r" cx="79" cy="215.5" r="1.6"/><circle class="o2" cx="144" cy="331.5" r="1.6"/><circle class="do" cx="87.7" cy="261.2" r="1.6"/><circle class="do" cx="69.1" cy="258.6" r="1.6"/><circle class="o" cx="75.4" cy="261.5" r="1.6"/><circle class="do" cx="110.8" cy="258.5" r="1.6"/><circle class="o" cx="61" cy="216.3" r="1.6"/><circle class="do" cx="63.5" cy="262.3" r="1.6"/><circle class="r" cx="65.7" cy="216.9" r="1.6"/><circle class="do" cx="97" cy="263.8" r="1.6"/><circle class="do" cx="88.1" cy="263.1" r="1.6"/><circle class="do" cx="77.3" cy="264" r="1.6"/><circle class="do" cx="56.1" cy="263.9" r="1.6"/><circle class="do" cx="81.1" cy="263.2" r="1.5"/><circle class="o" cx="95.5" cy="264" r="1.5"/><circle class="do" cx="102.3" cy="261.1" r="1.5"/><circle class="do" cx="83.9" cy="262.6" r="1.5"/><circle class="do" cx="85.3" cy="263.1" r="1.5"/><circle class="do" cx="79.9" cy="264.4" r="1.5"/><circle class="do" cx="60.7" cy="265" r="1.5"/><circle class="o" cx="131.8" cy="216.5" r="1.5"/><circle class="o" cx="160.4" cy="224" r="1.5"/><circle class="do" cx="63" cy="219.3" r="1.5"/><circle class="y" cx="59.7" cy="220.6" r="1.5"/><circle class="o" cx="60.3" cy="218.5" r="1.4"/><circle class="r" cx="56.6" cy="216.1" r="1.4"/><circle class="o" cx="58.4" cy="218.1" r="1.4"/><circle class="r" cx="74.7" cy="249.4" r="1.4"/><circle class="rr" cx="73.5" cy="252.3" r="1.4"/><circle class="rr" cx="60.8" cy="250.2" r="1.4"/><circle class="rr" cx="63.4" cy="250.7" r="1.4"/><circle class="rr" cx="77.5" cy="253.8" r="1.4"/><circle class="r" cx="59.2" cy="267.6" r="1.4"/><circle class="r" cx="61.9" cy="267.8" r="1.4"/><circle class="do" cx="60.4" cy="215.1" r="1.4"/><circle class="rr" cx="77.2" cy="254.3" r="1.4"/><circle class="r" cx="57.7" cy="214.8" r="1.4"/><circle class="r" cx="72.3" cy="328" r="1.4"/><circle class="dr" cx="61.7" cy="269.4" r="1.4"/><circle class="r" cx="72.8" cy="328" r="1.4"/><circle class="r" cx="56.8" cy="269.7" r="1.4"/><circle class="rr" cx="86.7" cy="329.2" r="1.4"/><circle class="r" cx="87.5" cy="255" r="1.3"/><circle class="rr" cx="54.5" cy="267.9" r="1.3"/><circle class="o" cx="61.6" cy="215.7" r="1.3"/><circle class="r" cx="62.3" cy="269" r="1.3"/><circle class="r" cx="51.5" cy="267.5" r="1.3"/><circle class="r" cx="54.3" cy="270.1" r="1.3"/><circle class="o" cx="70.5" cy="215.5" r="1.3"/><circle class="rr" cx="84.9" cy="325.5" r="1.3"/><circle class="o" cx="213.1" cy="224.7" r="1.3"/><circle class="rr" cx="58.5" cy="269.5" r="1.3"/><circle class="rr" cx="92.7" cy="324.7" r="1.3"/><circle class="rr" cx="82.7" cy="251.9" r="1.3"/><circle class="r" cx="64" cy="252.8" r="1.3"/><circle class="rr" cx="68.1" cy="251.9" r="1.3"/><circle class="r" cx="65.6" cy="323.4" r="1.3"/><circle class="r" cx="57.4" cy="226.6" r="1.3"/><circle class="dr" cx="56.2" cy="277.2" r="1.3"/><circle class="rr" cx="64.1" cy="328.3" r="1.3"/><circle class="rr" cx="72.1" cy="323.5" r="1.3"/><circle class="rr" cx="52.4" cy="277.8" r="1.3"/><circle class="rr" cx="94.6" cy="329.6" r="1.3"/><circle class="r" cx="74.9" cy="328" r="1.3"/><circle class="rr" cx="89.1" cy="329.1" r="1.3"/><circle class="rr" cx="89.3" cy="323.1" r="1.2"/><circle class="rr" cx="75.2" cy="329.7" r="1.2"/><circle class="r" cx="53.8" cy="270" r="1.2"/><circle class="rr" cx="73.2" cy="326.5" r="1.2"/><circle class="r" cx="59.4" cy="277.9" r="1.2"/><circle class="r" cx="69.1" cy="257.3" r="1.2"/><circle class="dr" cx="57.1" cy="269.9" r="1.2"/><circle class="r" cx="60.8" cy="280" r="1.2"/><circle class="rr" cx="56.2" cy="291.1" r="1.2"/><circle class="rr" cx="58.8" cy="278.9" r="1.2"/><circle class="rr" cx="87.6" cy="252.2" r="1.2"/><circle class="rr" cx="61.4" cy="225.6" r="1.2"/><circle class="rr" cx="85.3" cy="249.6" r="1.2"/><circle class="dr" cx="62" cy="278.8" r="1.2"/><circle class="rr" cx="58.5" cy="270.8" r="1.2"/><circle class="rr" cx="56.1" cy="270.9" r="1.2"/><circle class="r" cx="58.3" cy="278.4" r="1.2"/><circle class="r" cx="83.4" cy="252.3" r="1.2"/><circle class="r" cx="59.8" cy="269.9" r="1.2"/><circle class="r" cx="65.1" cy="324.9" r="1.2"/><circle class="r" cx="106.8" cy="216.5" r="1.2"/><circle class="r" cx="136.7" cy="227.4" r="1.2"/><circle class="o" cx="202.2" cy="224.7" r="1.2"/></g><g fill-opacity="0.9" stroke-opacity=".6" stroke-width=".35"><circle class="rr" cx="76.8" cy="324.3" r="1.2"/><circle class="r" cx="63.3" cy="318.3" r="1.2"/><circle class="r" cx="52.4" cy="215.2" r="1.2"/><circle class="r" cx="58.6" cy="226.8" r="1.2"/><circle class="r" cx="60.6" cy="255" r="1.2"/><circle class="dr" cx="53.2" cy="229.8" r="1.2"/><circle class="r" cx="56.8" cy="226.9" r="1.2"/><circle class="r" cx="52.2" cy="276.7" r="1.2"/><circle class="pk" cx="57.6" cy="310.5" r="1.2"/><circle class="r" cx="66" cy="324.1" r="1.2"/><circle class="dr" cx="59.4" cy="245.7" r="1.2"/><circle class="r" cx="51" cy="255.6" r="1.2"/><circle class="pk" cx="57" cy="315.9" r="1.2"/><circle class="dr" cx="53.4" cy="317.2" r="1.2"/><circle class="r" cx="56" cy="251.6" r="1.2"/><circle class="pk" cx="56.8" cy="245.2" r="1.2"/><circle class="dr" cx="53.3" cy="267.7" r="1.2"/><circle class="dr" cx="62.7" cy="250.4" r="1.2"/><circle class="r" cx="71.9" cy="249.1" r="1.2"/><circle class="r" cx="54.7" cy="254.2" r="1.2"/><circle class="dr" cx="63.2" cy="328.5" r="1.2"/><circle class="lr" cx="52.7" cy="320.3" r="1.2"/><circle class="r" cx="55.4" cy="278.4" r="1.2"/><circle class="lr" cx="56" cy="231.6" r="1.2"/><circle class="r" cx="53.4" cy="226.5" r="1.2"/><circle class="r" cx="51.8" cy="275.4" r="1.2"/><circle class="dr" cx="58" cy="291.9" r="1.2"/><circle class="rr" cx="58.3" cy="293.4" r="1.2"/><circle class="r" cx="60.2" cy="291.5" r="1.2"/><circle class="r" cx="68.1" cy="242.3" r="1.2"/><circle class="rr" cx="79" cy="324.1" r="1.2"/><circle class="pk" cx="56.2" cy="323.3" r="1.2"/><circle class="rr" cx="60.8" cy="254.4" r="1.2"/><circle class="pk" cx="59.9" cy="241.2" r="1.2"/><circle class="dr" cx="53.8" cy="237.9" r="1.2"/><circle class="pk" cx="55.4" cy="306.8" r="1.2"/><circle class="r" cx="55.6" cy="221.2" r="1.2"/><circle class="r" cx="61.9" cy="257.3" r="1.2"/><circle class="pk" cx="61.7" cy="317.3" r="1.2"/><circle class="r" cx="59.3" cy="255.4" r="1.2"/><circle class="rr" cx="78.4" cy="255.5" r="1.2"/><circle class="r" cx="53.5" cy="215.2" r="1.2"/><circle class="dr" cx="55.5" cy="320.5" r="1.2"/><circle class="lr" cx="55.2" cy="233.1" r="1.2"/><circle class="rr" cx="56" cy="290.5" r="1.2"/><circle class="dr" cx="78.1" cy="324.8" r="1.2"/><circle class="r" cx="56.5" cy="267.6" r="1.2"/><circle class="pk" cx="57.5" cy="314.6" r="1.2"/><circle class="dr" cx="56.5" cy="279.3" r="1.2"/><circle class="r" cx="71.8" cy="253.8" r="1.2"/><circle class="dr" cx="60.2" cy="330.6" r="1.2"/><circle class="dr" cx="55.1" cy="278.2" r="1.2"/><circle class="lr" cx="60.2" cy="238.1" r="1.2"/><circle class="lr" cx="52.4" cy="311.3" r="1.2"/><circle class="rr" cx="63.7" cy="325" r="1.2"/><circle class="lr" cx="57.6" cy="242.8" r="1.1"/><circle class="r" cx="53.1" cy="322.3" r="1.1"/><circle class="r" cx="58.9" cy="255.7" r="1.1"/><circle class="pk" cx="58" cy="236.8" r="1.1"/><circle class="pk" cx="69.8" cy="323.2" r="1.1"/><circle class="r" cx="77.9" cy="250.8" r="1.1"/><circle class="rr" cx="58.8" cy="293.5" r="1.1"/><circle class="pk" cx="57.7" cy="232.2" r="1.1"/><circle class="dr" cx="55.6" cy="269.2" r="1.1"/><circle class="r" cx="83.6" cy="330.3" r="1.1"/><circle class="pk" cx="55.9" cy="240.7" r="1.1"/><circle class="dr" cx="56.5" cy="290" r="1.1"/><circle class="rr" cx="77.8" cy="256.9" r="1.1"/><circle class="r" cx="58.8" cy="249.2" r="1.1"/><circle class="pk" cx="57.5" cy="315" r="1.1"/><circle class="rr" cx="52.9" cy="220.5" r="1.1"/><circle class="r" cx="54.8" cy="215" r="1.1"/><circle class="dr" cx="55.6" cy="237" r="1.1"/><circle class="r" cx="53.6" cy="220.6" r="1.1"/><circle class="r" cx="65.3" cy="324.4" r="1.1"/><circle class="r" cx="53" cy="276.7" r="1.1"/><circle class="pk" cx="52.2" cy="314.4" r="1.1"/><circle class="r" cx="54.8" cy="217.8" r="1.1"/><circle class="lr" cx="52.7" cy="315.9" r="1.1"/><circle class="r" cx="57.5" cy="269.2" r="1.1"/><circle class="r" cx="51.8" cy="226.2" r="1.1"/><circle class="lr" cx="66.2" cy="243.8" r="1.1"/><circle class="r" cx="73.9" cy="326.8" r="1.1"/><circle class="r" cx="80.7" cy="253.6" r="1.1"/><circle class="dr" cx="61.5" cy="316.4" r="1.1"/><circle class="rr" cx="66.3" cy="327.3" r="1.1"/><circle class="rr" cx="58" cy="268.8" r="1.1"/><circle class="dr" cx="55.7" cy="254.2" r="1.1"/><circle class="dr" cx="58.3" cy="312.3" r="1.1"/><circle class="lr" cx="59.2" cy="238.4" r="1.1"/><circle class="lr" cx="65.8" cy="246" r="1.1"/><circle class="r" cx="72.3" cy="325.1" r="1.1"/><circle class="rr" cx="54.4" cy="217.9" r="1.1"/><circle class="pk" cx="53.1" cy="248.5" r="1.1"/><circle class="dr" cx="68.9" cy="245.4" r="1.1"/><circle class="lr" cx="60.2" cy="242.5" r="1.1"/><circle class="dr" cx="63.1" cy="319.4" r="1.1"/><circle class="r" cx="69.8" cy="317.4" r="1.1"/><circle class="r" cx="52.9" cy="226.7" r="1.1"/><circle class="pk" cx="62.9" cy="246.5" r="1.1"/><circle class="rr" cx="76.5" cy="251.2" r="1.1"/><circle class="pk" cx="53.1" cy="231.5" r="1.1"/><circle class="rr" cx="85.9" cy="325.2" r="1.1"/><circle class="lr" cx="52.9" cy="316.3" r="1.1"/><circle class="dr" cx="58.8" cy="237.5" r="1.1"/><circle class="r" cx="58.4" cy="318.2" r="1.1"/><circle class="rr" cx="80" cy="325.8" r="1.1"/><circle class="r" cx="61.3" cy="267.9" r="1.1"/><circle class="pk" cx="54.3" cy="239.3" r="1.1"/><circle class="pk" cx="53.3" cy="241.4" r="1.1"/><circle class="r" cx="56.8" cy="223.3" r="1.1"/><circle class="rr" cx="64.6" cy="329" r="1.1"/><circle class="r" cx="55.9" cy="327.1" r="1.1"/><circle class="pk" cx="55.2" cy="321.1" r="1.1"/><circle class="lr" cx="56.7" cy="316.3" r="1.1"/><circle class="lr" cx="59.6" cy="312.1" r="1.1"/><circle class="r" cx="70.5" cy="324.2" r="1.1"/><circle class="r" cx="60.1" cy="277.3" r="1.1"/><circle class="dr" cx="51.6" cy="320.2" r="1.1"/><circle class="dr" cx="70.9" cy="247.2" r="1.1"/><circle class="dr" cx="58.3" cy="315.9" r="1.1"/><circle class="pk" cx="51.7" cy="234" r="1.1"/><circle class="r" cx="66.9" cy="325.6" r="1.1"/><circle class="r" cx="55.1" cy="226" r="1.1"/><circle class="r" cx="54" cy="319" r="1.1"/><circle class="pk" cx="56.6" cy="317" r="1.1"/><circle class="r" cx="66.1" cy="326.7" r="1.1"/><circle class="r" cx="68.6" cy="331" r="1.1"/><circle class="pk" cx="61.5" cy="242.1" r="1.1"/><circle class="dr" cx="62.9" cy="315.2" r="1.1"/><circle class="dr" cx="57.4" cy="323.4" r="1.1"/><circle class="r" cx="60.7" cy="250.4" r="1.1"/><circle class="r" cx="60" cy="267.9" r="1.1"/><circle class="r" cx="61.8" cy="317.6" r="1.1"/><circle class="dr" cx="56.2" cy="315" r="1.1"/><circle class="rr" cx="51.2" cy="218.4" r="1.1"/><circle class="rr" cx="61.5" cy="252.4" r="1.1"/><circle class="pk" cx="51.7" cy="306.3" r="1.1"/><circle class="r" cx="54.6" cy="250.9" r="1.1"/><circle class="dr" cx="54.2" cy="223.5" r="1.1"/><circle class="r" cx="58" cy="327.7" r="1.1"/><circle class="lr" cx="57.4" cy="316.2" r="1.1"/><circle class="pk" cx="58.6" cy="313.5" r="1.1"/><circle class="r" cx="59.4" cy="292.9" r="1.1"/><circle class="dr" cx="62.3" cy="240.3" r="1.1"/><circle class="lr" cx="53.8" cy="237.6" r="1.1"/><circle class="pk" cx="53" cy="239.1" r="1.1"/><circle class="pk" cx="57.3" cy="238" r="1.1"/><circle class="r" cx="67.6" cy="324.6" r="1.1"/><circle class="pk" cx="51.8" cy="234.1" r="1.1"/><circle class="rr" cx="53.5" cy="223.3" r="1.1"/><circle class="rr" cx="91.8" cy="328.2" r="1.1"/><circle class="r" cx="52.8" cy="320.9" r="1.1"/><circle class="dr" cx="54" cy="326.5" r="1.1"/><circle class="lr" cx="56.1" cy="245.3" r="1.1"/><circle class="rr" cx="73.4" cy="250.5" r="1.1"/><circle class="pk" cx="56.7" cy="248.2" r="1.1"/><circle class="r" cx="83.2" cy="324.2" r="1.1"/><circle class="pk" cx="60.2" cy="237.9" r="1.1"/><circle class="dr" cx="55.7" cy="324.9" r="1.1"/><circle class="dr" cx="58.7" cy="240.3" r="1.1"/><circle class="rr" cx="61.8" cy="326.8" r="1.1"/><circle class="r" cx="63" cy="253.9" r="1.1"/><circle class="r" cx="58.9" cy="226" r="1.1"/><circle class="rr" cx="61.5" cy="326.2" r="1.1"/><circle class="r" cx="68.5" cy="253.4" r="1.1"/><circle class="rr" cx="64.9" cy="329.4" r="1.1"/><circle class="dr" cx="56.4" cy="312.6" r="1.1"/><circle class="dr" cx="75.8" cy="326" r="1.1"/><circle class="r" cx="61" cy="316.3" r="1.1"/><circle class="r" cx="71.3" cy="248.4" r="1.1"/><circle class="r" cx="60.4" cy="318.2" r="1.1"/><circle class="dr" cx="51" cy="249.4" r="1.1"/><circle class="r" cx="62.4" cy="277.9" r="1.1"/><circle class="dr" cx="63.5" cy="249" r="1.1"/><circle class="rr" cx="54.9" cy="269.7" r="1.1"/><circle class="r" cx="68.5" cy="250.4" r="1.1"/><circle class="rr" cx="51.8" cy="289.5" r="1.1"/><circle class="rr" cx="70.3" cy="329.5" r="1.1"/><circle class="rr" cx="73.4" cy="250.9" r="1.1"/><circle class="pk" cx="52.3" cy="235.9" r="1.1"/><circle class="pk" cx="55.8" cy="237.5" r="1.1"/><circle class="r" cx="83.8" cy="250.8" r="1.1"/><circle class="dr" cx="64.5" cy="253.7" r="1.1"/><circle class="lr" cx="53.1" cy="238.6" r="1.1"/><circle class="r" cx="59.9" cy="252" r="1.1"/><circle class="dr" cx="52.8" cy="306.4" r="1.1"/><circle class="dr" cx="83.4" cy="256.8" r="1.0"/><circle class="dr" cx="62.7" cy="237.4" r="1.0"/><circle class="rr" cx="75.4" cy="256.3" r="1.0"/><circle class="r" cx="51.6" cy="246.9" r="1.0"/><circle class="dr" cx="58.1" cy="315.2" r="1.0"/><circle class="dr" cx="52.8" cy="269.1" r="1.0"/><circle class="dr" cx="62.1" cy="322.5" r="1.0"/><circle class="pk" cx="58.5" cy="310.1" r="1.0"/><circle class="dr" cx="60" cy="250.1" r="1.0"/><circle class="lr" cx="55.6" cy="312.3" r="1.0"/><circle class="dr" cx="52.6" cy="218.6" r="1.0"/><circle class="lr" cx="57.2" cy="233.9" r="1.0"/><circle class="r" cx="64" cy="319.3" r="1.0"/><circle class="pk" cx="62.3" cy="315.1" r="1.0"/><circle class="lr" cx="53" cy="230.7" r="1.0"/><circle class="lr" cx="56.4" cy="319.8" r="1.0"/><circle class="r" cx="60.5" cy="294.6" r="1.0"/><circle class="r" cx="53.3" cy="218.7" r="1.0"/><circle class="lr" cx="62.8" cy="322.3" r="1.0"/><circle class="lr" cx="63.1" cy="247.6" r="1.0"/><circle class="dr" cx="68.9" cy="327.3" r="1.0"/><circle class="pk" cx="52.6" cy="317.1" r="1.0"/><circle class="r" cx="56.5" cy="329.8" r="1.0"/><circle class="rr" cx="54.5" cy="226.6" r="1.0"/><circle class="dr" cx="58.8" cy="306.8" r="1.0"/><circle class="pk" cx="55.2" cy="276.1" r="1.0"/><circle class="r" cx="59.2" cy="293.5" r="1.0"/><circle class="r" cx="53.2" cy="289.8" r="1.0"/><circle class="r" cx="71.3" cy="245.1" r="1.0"/><circle class="dr" cx="61.5" cy="315.5" r="1.0"/><circle class="dr" cx="55.3" cy="293.4" r="1.0"/><circle class="dr" cx="54.9" cy="307.7" r="1.0"/><circle class="pk" cx="55.3" cy="285.9" r="1.0"/><circle class="dr" cx="65.4" cy="320.6" r="1.0"/><circle class="r" cx="63" cy="324.7" r="1.0"/><circle class="r" cx="56.7" cy="255.7" r="1.0"/><circle class="pk" cx="56" cy="241.5" r="1.0"/><circle class="dr" cx="54.3" cy="221" r="1.0"/><circle class="lr" cx="59.3" cy="240.7" r="1.0"/><circle class="lr" cx="55.3" cy="308.9" r="1.0"/><circle class="dr" cx="60.5" cy="247.9" r="1.0"/><circle class="dr" cx="71.3" cy="317.7" r="1.0"/><circle class="rr" cx="52.2" cy="270.2" r="1.0"/><circle class="rr" cx="74.9" cy="328.1" r="1.0"/><circle class="r" cx="54" cy="329.7" r="1.0"/><circle class="dr" cx="58.6" cy="241.3" r="1.0"/><circle class="r" cx="57.3" cy="324.6" r="1.0"/><circle class="r" cx="51.1" cy="287" r="1.0"/><circle class="r" cx="86.9" cy="255.8" r="1.0"/><circle class="r" cx="52.6" cy="252" r="1.0"/><circle class="r" cx="65.5" cy="246.7" r="1.0"/><circle class="lr" cx="54.2" cy="313.4" r="1.0"/><circle class="r" cx="55.4" cy="326.9" r="1.0"/><circle class="lr" cx="55.8" cy="233.2" r="1.0"/><circle class="pk" cx="54.6" cy="313.3" r="1.0"/><circle class="pk" cx="52.5" cy="246.3" r="1.0"/><circle class="rr" cx="60.5" cy="278.9" r="1.0"/><circle class="r" cx="60.4" cy="243.8" r="1.0"/><circle class="rr" cx="64.1" cy="324.9" r="1.0"/><circle class="dr" cx="55.9" cy="250.2" r="1.0"/><circle class="r" cx="61.1" cy="280.9" r="1.0"/><circle class="lr" cx="54.2" cy="241.6" r="1.0"/><circle class="r" cx="59.1" cy="250.3" r="1.0"/><circle class="dr" cx="56.8" cy="290" r="1.0"/><circle class="r" cx="57.6" cy="278.7" r="1.0"/><circle class="dr" cx="54.7" cy="232" r="1.0"/><circle class="lr" cx="60.3" cy="309.5" r="1.0"/><circle class="rr" cx="56.2" cy="223.2" r="1.0"/><circle class="r" cx="119.1" cy="226.7" r="1.0"/><circle class="r" cx="94.1" cy="251.7" r="1.0"/><circle class="r" cx="105" cy="255" r="1.0"/><circle class="r" cx="106.9" cy="253.6" r="1.0"/><circle class="r" cx="182.5" cy="298.2" r="1.0"/><circle class="r" cx="146.5" cy="327.4" r="1.0"/><circle class="pk" cx="52.8" cy="316.7" r="1.0"/><circle class="r" cx="59.3" cy="250.7" r="1.0"/><circle class="rr" cx="53.1" cy="329.7" r="1.0"/><circle class="lr" cx="57.3" cy="249.3" r="1.0"/><circle class="rr" cx="89.5" cy="254.7" r="1.0"/><circle class="pk" cx="58.4" cy="312" r="1.0"/><circle class="pk" cx="54.3" cy="322" r="1.0"/><circle class="lr" cx="53.1" cy="232.1" r="1.0"/><circle class="dr" cx="57.4" cy="325.6" r="1.0"/><circle class="dr" cx="58.1" cy="319.1" r="1.0"/><circle class="pk" cx="54.6" cy="237.7" r="1.0"/><circle class="r" cx="86.2" cy="318.7" r="1.0"/><circle class="r" cx="63.2" cy="254.8" r="1.0"/><circle class="r" cx="56.9" cy="278.2" r="1.0"/><circle class="lr" cx="57.6" cy="308.2" r="1.0"/><circle class="r" cx="51.9" cy="218.5" r="1.0"/><circle class="r" cx="51.3" cy="326.3" r="1.0"/><circle class="r" cx="53.3" cy="319.7" r="1.0"/><circle class="rr" cx="68.8" cy="254.1" r="1.0"/><circle class="r" cx="54.1" cy="290.1" r="1.0"/><circle class="r" cx="62.8" cy="325.1" r="1.0"/><circle class="pk" cx="55.8" cy="302.9" r="1.0"/><circle class="dr" cx="52.5" cy="322.3" r="1.0"/><circle class="r" cx="61.6" cy="293.4" r="1.0"/><circle class="rr" cx="65.7" cy="326" r="1.0"/><circle class="pk" cx="59.5" cy="239.7" r="1.0"/><circle class="rr" cx="55.4" cy="269.3" r="1.0"/><circle class="rr" cx="91.2" cy="323.3" r="1.0"/><circle class="pk" cx="53.1" cy="239.3" r="1.0"/><circle class="dr" cx="56.4" cy="221" r="1.0"/><circle class="pk" cx="57.3" cy="232.8" r="1.0"/><circle class="r" cx="53.3" cy="250.7" r="1.0"/><circle class="dr" cx="63.2" cy="317.8" r="1.0"/><circle class="rr" cx="85.3" cy="249.9" r="1.0"/><circle class="r" cx="93.2" cy="328.9" r="1.0"/><circle class="dr" cx="53.8" cy="218" r="1.0"/><circle class="r" cx="53.7" cy="290.3" r="1.0"/><circle class="r" cx="60.9" cy="268.9" r="1.0"/><circle class="lr" cx="52" cy="303.3" r="1.0"/><circle class="r" cx="67.4" cy="252.2" r="1.0"/><circle class="r" cx="69" cy="253.5" r="1.0"/><circle class="r" cx="58.2" cy="315.9" r="1.0"/><circle class="lr" cx="76.8" cy="239.6" r="1.0"/><circle class="r" cx="59.1" cy="327.8" r="1.0"/><circle class="lr" cx="56" cy="312" r="1.0"/><circle class="dr" cx="71.4" cy="244.1" r="1.0"/><circle class="r" cx="66.6" cy="254.3" r="1.0"/><circle class="r" cx="82.7" cy="329.4" r="1.0"/><circle class="r" cx="82.7" cy="256.2" r="1.0"/><circle class="rr" cx="53.9" cy="283.9" r="1.0"/><circle class="pk" cx="65" cy="240" r="1.0"/><circle class="r" cx="75.7" cy="329.1" r="1.0"/><circle class="r" cx="62.6" cy="315.9" r="1.0"/><circle class="pk" cx="94.4" cy="255.2" r="1.0"/><circle class="rr" cx="61" cy="253.5" r="1.0"/><circle class="r" cx="55.2" cy="291.8" r="1.0"/><circle class="r" cx="55" cy="221.4" r="1.0"/><circle class="r" cx="62.8" cy="248" r="1.0"/><circle class="dr" cx="63" cy="240.3" r="1.0"/><circle class="lr" cx="51.2" cy="233.5" r="1.0"/><circle class="dr" cx="54.1" cy="283.7" r="1.0"/><circle class="rr" cx="72.9" cy="330" r="0.9"/><circle class="r" cx="90.1" cy="329.4" r="0.9"/><circle class="r" cx="59.3" cy="269.4" r="0.9"/><circle class="r" cx="51.7" cy="302.3" r="0.9"/><circle class="r" cx="87.1" cy="325.3" r="0.9"/><circle class="lr" cx="63.2" cy="314.6" r="0.9"/><circle class="r" cx="76.6" cy="307.8" r="0.9"/><circle class="pk" cx="53.5" cy="296.9" r="0.9"/><circle class="pk" cx="55.5" cy="320.9" r="0.9"/><circle class="pk" cx="54.4" cy="306.7" r="0.9"/><circle class="rr" cx="64.2" cy="324.2" r="0.9"/><circle class="rr" cx="57.8" cy="327.4" r="0.9"/><circle class="r" cx="52.2" cy="266.7" r="0.9"/><circle class="lr" cx="57.3" cy="304" r="0.9"/><circle class="dr" cx="68.6" cy="255.4" r="0.9"/><circle class="pk" cx="94.8" cy="314.4" r="0.9"/><circle class="pk" cx="53.9" cy="307.1" r="0.9"/><circle class="rr" cx="53.7" cy="267.6" r="0.9"/><circle class="dr" cx="55.4" cy="312" r="0.9"/><circle class="r" cx="61.9" cy="243.2" r="0.9"/><circle class="rr" cx="76.9" cy="327.1" r="0.9"/><circle class="pk" cx="57.3" cy="314.1" r="0.9"/><circle class="pk" cx="58.7" cy="243.7" r="0.9"/><circle class="r" cx="80.7" cy="252.8" r="0.9"/><circle class="lr" cx="66.5" cy="248.1" r="0.9"/><circle class="rr" cx="58.6" cy="329.2" r="0.9"/><circle class="rr" cx="53.4" cy="223.4" r="0.9"/><circle class="lr" cx="74.8" cy="237" r="0.9"/><circle class="r" cx="82.9" cy="328.3" r="0.9"/><circle class="rr" cx="54.4" cy="291.6" r="0.9"/><circle class="pk" cx="55.7" cy="301.4" r="0.9"/><circle class="pk" cx="61.4" cy="318.8" r="0.9"/><circle class="r" cx="58" cy="277.4" r="0.9"/><circle class="rr" cx="64.5" cy="326.2" r="0.9"/><circle class="r" cx="55.4" cy="241.9" r="0.9"/><circle class="rr" cx="81.8" cy="330.2" r="0.9"/><circle class="r" cx="56" cy="215.8" r="0.9"/><circle class="lr" cx="58.2" cy="243.2" r="0.9"/><circle class="lr" cx="55.2" cy="232.7" r="0.9"/><circle class="r" cx="73.9" cy="329.9" r="0.9"/><circle class="pk" cx="63" cy="237" r="0.9"/><circle class="pk" cx="58.8" cy="313.5" r="0.9"/><circle class="r" cx="54.3" cy="275.5" r="0.9"/><circle class="r" cx="54.8" cy="290.3" r="0.9"/><circle class="dr" cx="54.2" cy="292.8" r="0.9"/><circle class="r" cx="54.8" cy="278.6" r="0.9"/><circle class="dr" cx="64.3" cy="245.5" r="0.9"/><circle class="r" cx="60.2" cy="226.3" r="0.9"/><circle class="lr" cx="55.1" cy="239.3" r="0.9"/><circle class="dr" cx="53.3" cy="283.6" r="0.9"/><circle class="rr" cx="77.4" cy="256.6" r="0.9"/><circle class="r" cx="57.5" cy="248.3" r="0.9"/><circle class="rr" cx="94.9" cy="328.3" r="0.9"/><circle class="r" cx="63.4" cy="323.3" r="0.9"/><circle class="rr" cx="60.8" cy="294.5" r="0.9"/><circle class="lr" cx="54.7" cy="307.1" r="0.9"/><circle class="pk" cx="66.3" cy="249.9" r="0.9"/><circle class="rr" cx="56.7" cy="256.1" r="0.9"/><circle class="rr" cx="60.4" cy="269.5" r="0.9"/><circle class="lr" cx="66.1" cy="249.9" r="0.9"/><circle class="r" cx="88.6" cy="254.4" r="0.9"/><circle class="dr" cx="55.8" cy="218.1" r="0.9"/><circle class="r" cx="72.9" cy="323.5" r="0.9"/><circle class="rr" cx="72.3" cy="328" r="0.9"/><circle class="pk" cx="53.3" cy="309.3" r="0.9"/><circle class="r" cx="65.8" cy="325.7" r="0.9"/><circle class="r" cx="55.3" cy="218.5" r="0.9"/><circle class="pk" cx="54.9" cy="229.7" r="0.9"/><circle class="pk" cx="59.7" cy="316.5" r="0.9"/><circle class="pk" cx="52" cy="229.8" r="0.9"/><circle class="r" cx="72.5" cy="249.6" r="0.9"/><circle class="pk" cx="58.6" cy="309.9" r="0.9"/><circle class="dr" cx="52.8" cy="292.5" r="0.9"/><circle class="r" cx="56.8" cy="241.7" r="0.9"/><circle class="dr" cx="61.8" cy="278.8" r="0.9"/><circle class="pk" cx="93.9" cy="236.7" r="0.9"/><circle class="r" cx="129" cy="323.3" r="0.9"/></g><g fill-opacity="0.9" stroke-width="0"><circle class="r" cx="52.2" cy="251.7" r="0.9"/><circle class="r" cx="85.1" cy="329.4" r="0.9"/><circle class="r" cx="53.1" cy="215.5" r="0.9"/><circle class="r" cx="52.5" cy="244" r="0.9"/><circle class="r" cx="61.9" cy="329.4" r="0.9"/><circle class="lr" cx="51.4" cy="235.7" r="0.9"/><circle class="dr" cx="62.2" cy="247" r="0.9"/><circle class="r" cx="55.6" cy="215.9" r="0.9"/><circle class="dr" cx="67.4" cy="251.1" r="0.9"/><circle class="lr" cx="55.7" cy="238.4" r="0.9"/><circle class="pk" cx="51.3" cy="229.5" r="0.9"/><circle class="lr" cx="51.3" cy="232.9" r="0.9"/><circle class="lr" cx="60" cy="314" r="0.9"/><circle class="dr" cx="71.4" cy="243.3" r="0.9"/><circle class="dr" cx="58.2" cy="235.4" r="0.9"/><circle class="dr" cx="65.8" cy="329.6" r="0.9"/><circle class="pk" cx="55.1" cy="237.4" r="0.9"/><circle class="r" cx="57.5" cy="293.9" r="0.9"/><circle class="lr" cx="62.5" cy="323.8" r="0.9"/><circle class="r" cx="51.1" cy="215.5" r="0.9"/><circle class="r" cx="95.7" cy="310.9" r="0.9"/><circle class="rr" cx="51.9" cy="291.2" r="0.9"/><circle class="lr" cx="51.5" cy="303.9" r="0.9"/><circle class="dr" cx="63.3" cy="238.2" r="0.9"/><circle class="dr" cx="51.5" cy="242.8" r="0.9"/><circle class="rr" cx="66.4" cy="254.7" r="0.9"/><circle class="r" cx="67.8" cy="254.1" r="0.9"/><circle class="rr" cx="53.9" cy="276.7" r="0.9"/><circle class="dr" cx="53.4" cy="300.6" r="0.9"/><circle class="r" cx="73.4" cy="327.6" r="0.9"/><circle class="dr" cx="57.7" cy="242.8" r="0.9"/><circle class="rr" cx="51.9" cy="223.8" r="0.9"/><circle class="rr" cx="53.4" cy="250.9" r="0.9"/><circle class="r" cx="59.9" cy="244.5" r="0.9"/><circle class="r" cx="89.9" cy="247.2" r="0.9"/><circle class="lr" cx="84.5" cy="308.8" r="0.9"/><circle class="r" cx="56.9" cy="327.9" r="0.9"/><circle class="r" cx="52" cy="284.5" r="0.9"/><circle class="lr" cx="84.7" cy="240.6" r="0.9"/><circle class="r" cx="62.3" cy="327.3" r="0.9"/><circle class="lr" cx="55.7" cy="315" r="0.9"/><circle class="lr" cx="54.3" cy="238.5" r="0.9"/><circle class="lr" cx="54.3" cy="310.5" r="0.9"/><circle class="dr" cx="67" cy="253.6" r="0.9"/><circle class="pk" cx="52.4" cy="308.2" r="0.9"/><circle class="r" cx="54.7" cy="278.4" r="0.9"/><circle class="rr" cx="57.1" cy="292.6" r="0.9"/><circle class="pk" cx="62.4" cy="312.9" r="0.9"/><circle class="pk" cx="55.1" cy="313" r="0.9"/><circle class="lr" cx="73.4" cy="247.1" r="0.9"/><circle class="lr" cx="65.6" cy="245.7" r="0.9"/><circle class="r" cx="52.9" cy="299.7" r="0.9"/><circle class="r" cx="72.9" cy="256.7" r="0.9"/><circle class="dr" cx="64.2" cy="327.9" r="0.9"/><circle class="r" cx="55.6" cy="223.4" r="0.9"/><circle class="r" cx="55.3" cy="288.7" r="0.9"/><circle class="r" cx="53.3" cy="276.9" r="0.9"/><circle class="rr" cx="67.4" cy="255.1" r="0.9"/><circle class="rr" cx="82.7" cy="328.1" r="0.9"/><circle class="dr" cx="61.7" cy="251.3" r="0.9"/><circle class="dr" cx="55.3" cy="319.8" r="0.9"/><circle class="dr" cx="70.7" cy="255.9" r="0.9"/><circle class="rr" cx="55.6" cy="278" r="0.9"/><circle class="r" cx="59.7" cy="293.5" r="0.9"/><circle class="r" cx="56.9" cy="221.5" r="0.9"/><circle class="pk" cx="58.4" cy="307" r="0.9"/><circle class="r" cx="77.4" cy="321.6" r="0.9"/><circle class="r" cx="66" cy="326.2" r="0.9"/><circle class="lr" cx="59.5" cy="248.6" r="0.9"/><circle class="pk" cx="51.8" cy="296.2" r="0.9"/><circle class="lr" cx="56.1" cy="235.2" r="0.9"/><circle class="dr" cx="51.2" cy="330.1" r="0.9"/><circle class="r" cx="60.5" cy="225.7" r="0.8"/><circle class="r" cx="55.7" cy="325.6" r="0.8"/><circle class="dr" cx="58.3" cy="314.7" r="0.8"/><circle class="rr" cx="72.9" cy="323.5" r="0.8"/><circle class="rr" cx="52.8" cy="221.5" r="0.8"/><circle class="r" cx="91.7" cy="329.5" r="0.8"/><circle class="rr" cx="51.1" cy="293.9" r="0.8"/><circle class="pk" cx="60.9" cy="242.6" r="0.8"/><circle class="r" cx="53.6" cy="299.7" r="0.8"/><circle class="r" cx="59.7" cy="276.8" r="0.8"/><circle class="lr" cx="56.4" cy="239.3" r="0.8"/><circle class="lr" cx="54.6" cy="238.9" r="0.8"/><circle class="rr" cx="51.6" cy="226.1" r="0.8"/><circle class="r" cx="51.3" cy="221.4" r="0.8"/><circle class="dr" cx="53.1" cy="245.6" r="0.8"/><circle class="dr" cx="82.1" cy="253.3" r="0.8"/><circle class="lr" cx="62.6" cy="316" r="0.8"/><circle class="r" cx="70.8" cy="313" r="0.8"/><circle class="r" cx="63.6" cy="252.7" r="0.8"/><circle class="dr" cx="60.3" cy="244.9" r="0.8"/><circle class="r" cx="54.1" cy="289.6" r="0.8"/><circle class="r" cx="69.7" cy="250.6" r="0.8"/><circle class="pk" cx="62.4" cy="237.2" r="0.8"/><circle class="dr" cx="68.5" cy="254" r="0.8"/><circle class="lr" cx="69.9" cy="245" r="0.8"/><circle class="pk" cx="58.4" cy="313.1" r="0.8"/><circle class="r" cx="57" cy="318.2" r="0.8"/><circle class="lr" cx="51.4" cy="303.2" r="0.8"/><circle class="r" cx="63" cy="242.8" r="0.8"/><circle class="dr" cx="55.1" cy="284.2" r="0.8"/><circle class="pk" cx="57.7" cy="236.2" r="0.8"/><circle class="lr" cx="57.4" cy="239.1" r="0.8"/><circle class="dr" cx="53.8" cy="276.3" r="0.8"/><circle class="lr" cx="57.5" cy="318.2" r="0.8"/><circle class="lr" cx="76.3" cy="322.1" r="0.8"/><circle class="lr" cx="60.3" cy="310.6" r="0.8"/><circle class="r" cx="81.8" cy="251.4" r="0.8"/><circle class="lr" cx="63.3" cy="314.6" r="0.8"/><circle class="lr" cx="57.1" cy="318.8" r="0.8"/><circle class="lr" cx="61.6" cy="238.9" r="0.8"/><circle class="r" cx="61.3" cy="328.9" r="0.8"/><circle class="r" cx="58.2" cy="243.7" r="0.8"/><circle class="rr" cx="55.4" cy="278.7" r="0.8"/><circle class="r" cx="55.9" cy="225.8" r="0.8"/><circle class="lr" cx="86.2" cy="235.8" r="0.8"/><circle class="pk" cx="51.6" cy="301.2" r="0.8"/><circle class="r" cx="61.3" cy="292.4" r="0.8"/><circle class="dr" cx="70.7" cy="325" r="0.8"/><circle class="rr" cx="90.5" cy="325.2" r="0.8"/><circle class="pk" cx="56.1" cy="238.5" r="0.8"/><circle class="rr" cx="52.5" cy="292.1" r="0.8"/><circle class="pk" cx="54.1" cy="246" r="0.8"/><circle class="lr" cx="71.2" cy="320.7" r="0.8"/><circle class="rr" cx="60.6" cy="327.9" r="0.8"/><circle class="r" cx="69" cy="327.2" r="0.8"/><circle class="dr" cx="55.7" cy="243.9" r="0.8"/><circle class="lr" cx="52.2" cy="315.5" r="0.8"/><circle class="dr" cx="62.9" cy="249" r="0.8"/><circle class="r" cx="60.3" cy="328.7" r="0.8"/><circle class="rr" cx="64.5" cy="327.2" r="0.8"/><circle class="pk" cx="55.3" cy="307.2" r="0.8"/><circle class="lr" cx="58.1" cy="232" r="0.8"/><circle class="pk" cx="60.1" cy="241.7" r="0.8"/><circle class="dr" cx="75.6" cy="322.2" r="0.8"/><circle class="rr" cx="57.4" cy="279.3" r="0.8"/><circle class="r" cx="215.9" cy="297" r="0.8"/><circle class="r" cx="55" cy="282.5" r="0.8"/><circle class="lr" cx="64.6" cy="253.6" r="0.8"/><circle class="dr" cx="58.1" cy="311.4" r="0.8"/><circle class="pk" cx="57.2" cy="313.9" r="0.8"/><circle class="dr" cx="66.4" cy="245.7" r="0.8"/><circle class="r" cx="63.6" cy="244.1" r="0.8"/><circle class="r" cx="62" cy="254.5" r="0.8"/><circle class="lr" cx="54" cy="233.8" r="0.8"/><circle class="rr" cx="68.4" cy="251.6" r="0.8"/><circle class="rr" cx="87.8" cy="325.8" r="0.8"/><circle class="pk" cx="53.1" cy="321.3" r="0.8"/><circle class="pk" cx="58" cy="318.9" r="0.8"/><circle class="r" cx="65.1" cy="308.6" r="0.8"/><circle class="rr" cx="92" cy="252.1" r="0.8"/><circle class="lr" cx="56.8" cy="303.6" r="0.8"/><circle class="lr" cx="56.8" cy="240.7" r="0.8"/><circle class="dr" cx="53.3" cy="316.2" r="0.8"/><circle class="rr" cx="60.6" cy="251.4" r="0.8"/><circle class="rr" cx="53.1" cy="296.5" r="0.8"/><circle class="pk" cx="51.1" cy="232.3" r="0.8"/><circle class="r" cx="52.5" cy="290.4" r="0.8"/><circle class="r" cx="62.5" cy="315.9" r="0.8"/><circle class="pk" cx="51.6" cy="312.2" r="0.8"/><circle class="pk" cx="58.1" cy="239.4" r="0.8"/><circle class="rr" cx="64.7" cy="326.8" r="0.8"/><circle class="dr" cx="54.8" cy="302.8" r="0.8"/><circle class="dr" cx="57.1" cy="231.6" r="0.8"/><circle class="r" cx="70.6" cy="248.3" r="0.8"/><circle class="dr" cx="80.5" cy="254.1" r="0.8"/><circle class="dr" cx="64.2" cy="326.8" r="0.8"/><circle class="pk" cx="70.1" cy="306.9" r="0.8"/><circle class="lr" cx="55.1" cy="237.9" r="0.8"/><circle class="rr" cx="88.7" cy="255.2" r="0.8"/><circle class="r" cx="56.9" cy="215.1" r="0.8"/><circle class="rr" cx="72.1" cy="251" r="0.8"/><circle class="dr" cx="58.5" cy="250.7" r="0.8"/><circle class="r" cx="55.2" cy="223.8" r="0.8"/><circle class="lr" cx="52.6" cy="244.2" r="0.8"/><circle class="r" cx="60.5" cy="253.5" r="0.8"/><circle class="rr" cx="62.8" cy="324.8" r="0.8"/><circle class="lr" cx="66.8" cy="246.3" r="0.8"/><circle class="lr" cx="66" cy="322.8" r="0.8"/><circle class="pk" cx="61.9" cy="241.6" r="0.8"/><circle class="r" cx="83.3" cy="327.8" r="0.8"/><circle class="pk" cx="70.5" cy="318.6" r="0.8"/><circle class="dr" cx="66.6" cy="243.8" r="0.8"/><circle class="rr" cx="64.5" cy="257.2" r="0.8"/><circle class="rr" cx="58.2" cy="250.2" r="0.8"/><circle class="r" cx="79.6" cy="325.1" r="0.8"/><circle class="r" cx="84.8" cy="308.8" r="0.8"/><circle class="rr" cx="60.9" cy="250.4" r="0.8"/><circle class="dr" cx="53.7" cy="283" r="0.8"/><circle class="rr" cx="61" cy="251.2" r="0.8"/><circle class="rr" cx="54" cy="278.5" r="0.8"/><circle class="pk" cx="54.1" cy="310.7" r="0.8"/><circle class="rr" cx="61.3" cy="329" r="0.8"/><circle class="rr" cx="54.1" cy="284.7" r="0.8"/><circle class="rr" cx="61.5" cy="328.3" r="0.8"/><circle class="dr" cx="63" cy="322.4" r="0.7"/><circle class="lr" cx="54.3" cy="230.2" r="0.7"/><circle class="dr" cx="53.2" cy="315.3" r="0.7"/><circle class="lr" cx="51.2" cy="313.7" r="0.7"/><circle class="r" cx="66.5" cy="324.7" r="0.7"/><circle class="rr" cx="67.6" cy="255.8" r="0.7"/><circle class="r" cx="52.8" cy="286.5" r="0.7"/><circle class="pk" cx="64.9" cy="314.5" r="0.7"/><circle class="dr" cx="52.4" cy="300" r="0.7"/><circle class="rr" cx="91.6" cy="324.1" r="0.7"/><circle class="pk" cx="60.3" cy="314.9" r="0.7"/><circle class="r" cx="65.6" cy="253" r="0.7"/><circle class="lr" cx="56.9" cy="248.1" r="0.7"/><circle class="pk" cx="75.2" cy="246.5" r="0.7"/><circle class="dr" cx="52.2" cy="220.8" r="0.7"/><circle class="dr" cx="56.1" cy="313.4" r="0.7"/><circle class="dr" cx="51.2" cy="245.4" r="0.7"/><circle class="dr" cx="51" cy="330.2" r="0.7"/><circle class="dr" cx="59.9" cy="241" r="0.7"/><circle class="lr" cx="54.4" cy="231.4" r="0.7"/><circle class="r" cx="86" cy="328.6" r="0.7"/><circle class="r" cx="59.5" cy="320.9" r="0.7"/><circle class="dr" cx="54.4" cy="215.7" r="0.7"/><circle class="r" cx="81.3" cy="329.8" r="0.7"/><circle class="dr" cx="52.6" cy="223.1" r="0.7"/><circle class="rr" cx="51.4" cy="223.7" r="0.7"/><circle class="r" cx="60.2" cy="325.6" r="0.7"/><circle class="r" cx="54.8" cy="290.1" r="0.7"/><circle class="lr" cx="60.8" cy="321.9" r="0.7"/><circle class="dr" cx="59.7" cy="312.8" r="0.7"/><circle class="dr" cx="53.9" cy="299.9" r="0.7"/><circle class="pk" cx="61.2" cy="236" r="0.7"/><circle class="lr" cx="58.9" cy="238.1" r="0.7"/><circle class="r" cx="59.3" cy="254.4" r="0.7"/><circle class="rr" cx="56.4" cy="218.3" r="0.7"/><circle class="rr" cx="58.8" cy="251.5" r="0.7"/><circle class="pk" cx="59.6" cy="239.6" r="0.7"/><circle class="lr" cx="89.7" cy="240" r="0.7"/><circle class="r" cx="51" cy="256.9" r="0.7"/><circle class="lr" cx="77.2" cy="253.9" r="0.7"/><circle class="r" cx="72.9" cy="245.6" r="0.7"/><circle class="lr" cx="56.5" cy="308.1" r="0.7"/><circle class="dr" cx="54.7" cy="235.8" r="0.7"/><circle class="dr" cx="61.4" cy="325.6" r="0.7"/><circle class="r" cx="61.9" cy="316.2" r="0.7"/><circle class="r" cx="64.9" cy="245.2" r="0.7"/><circle class="rr" cx="63.3" cy="250.8" r="0.7"/><circle class="pk" cx="60.4" cy="237.2" r="0.7"/><circle class="pk" cx="72.5" cy="246.4" r="0.7"/><circle class="r" cx="67.2" cy="252.4" r="0.7"/><circle class="r" cx="61.9" cy="244.9" r="0.7"/><circle class="r" cx="53.3" cy="244.3" r="0.7"/><circle class="r" cx="61.2" cy="250.4" r="0.7"/><circle class="r" cx="52" cy="215.1" r="0.7"/><circle class="pk" cx="51.5" cy="304.2" r="0.7"/><circle class="r" cx="64.9" cy="248.6" r="0.7"/><circle class="dr" cx="57.3" cy="305.6" r="0.7"/><circle class="rr" cx="67.5" cy="330.5" r="0.7"/><circle class="r" cx="66" cy="252.7" r="0.7"/><circle class="r" cx="51.8" cy="255.6" r="0.7"/><circle class="lr" cx="60.7" cy="318.6" r="0.7"/><circle class="dr" cx="56.4" cy="314.8" r="0.7"/><circle class="lr" cx="60.7" cy="239.7" r="0.7"/><circle class="r" cx="60.9" cy="324.8" r="0.7"/><circle class="lr" cx="57.5" cy="230" r="0.7"/><circle class="dr" cx="78.6" cy="327.4" r="0.7"/><circle class="pk" cx="91" cy="234.3" r="0.7"/><circle class="pk" cx="66.5" cy="306.6" r="0.7"/><circle class="pk" cx="91" cy="240.7" r="0.7"/><circle class="r" cx="62.8" cy="241.7" r="0.7"/><circle class="lr" cx="69.3" cy="320.9" r="0.7"/><circle class="lr" cx="51.5" cy="235.7" r="0.7"/><circle class="dr" cx="51.9" cy="318.3" r="0.7"/><circle class="dr" cx="55.3" cy="314.2" r="0.7"/><circle class="r" cx="62" cy="247.1" r="0.7"/><circle class="r" cx="64.4" cy="326.1" r="0.7"/><circle class="dr" cx="56.9" cy="241.9" r="0.7"/><circle class="pk" cx="54.7" cy="276.5" r="0.7"/><circle class="pk" cx="57.7" cy="236.2" r="0.7"/><circle class="r" cx="82.5" cy="311.7" r="0.7"/><circle class="dr" cx="63.2" cy="245.4" r="0.7"/><circle class="dr" cx="56.7" cy="321.9" r="0.7"/><circle class="r" cx="55.8" cy="283.9" r="0.7"/><circle class="dr" cx="65" cy="242.5" r="0.7"/><circle class="dr" cx="53" cy="322.6" r="0.7"/><circle class="dr" cx="56" cy="326.8" r="0.7"/><circle class="pk" cx="56.1" cy="246.4" r="0.7"/><circle class="pk" cx="55.8" cy="232.2" r="0.7"/><circle class="rr" cx="63.1" cy="253.9" r="0.7"/><circle class="lr" cx="68" cy="245.3" r="0.7"/><circle class="dr" cx="53.7" cy="276.8" r="0.7"/><circle class="dr" cx="55.8" cy="308.3" r="0.7"/><circle class="pk" cx="82.4" cy="245.2" r="0.7"/><circle class="r" cx="70.7" cy="322" r="0.7"/><circle class="lr" cx="58.4" cy="314.1" r="0.7"/><circle class="lr" cx="57.2" cy="237.9" r="0.7"/><circle class="pk" cx="70.9" cy="244.6" r="0.7"/><circle class="r" cx="67.7" cy="243.4" r="0.7"/><circle class="lr" cx="94.2" cy="237.5" r="0.7"/><circle class="lr" cx="51.2" cy="233.7" r="0.7"/><circle class="pk" cx="57.8" cy="312.3" r="0.7"/><circle class="pk" cx="51.9" cy="299.1" r="0.7"/><circle class="rr" cx="63" cy="250.9" r="0.7"/><circle class="lr" cx="60" cy="322.7" r="0.7"/><circle class="r" cx="63.1" cy="329.9" r="0.7"/><circle class="r" cx="55.7" cy="249.9" r="0.7"/><circle class="r" cx="63.3" cy="245.7" r="0.7"/><circle class="dr" cx="53.2" cy="324.7" r="0.7"/><circle class="pk" cx="92.4" cy="311.8" r="0.7"/><circle class="lr" cx="58.9" cy="313" r="0.7"/><circle class="pk" cx="63.9" cy="317.6" r="0.7"/><circle class="lr" cx="59.4" cy="319.2" r="0.7"/><circle class="pk" cx="61.1" cy="246.4" r="0.7"/><circle class="lr" cx="55.6" cy="238.4" r="0.7"/><circle class="pk" cx="53.1" cy="299.4" r="0.6"/><circle class="r" cx="79.3" cy="241.6" r="0.6"/><circle class="lr" cx="57" cy="320.9" r="0.6"/><circle class="lr" cx="52.8" cy="235.4" r="0.6"/><circle class="lr" cx="53.8" cy="305.2" r="0.6"/><circle class="dr" cx="56.9" cy="312.8" r="0.6"/><circle class="lr" cx="73.1" cy="251" r="0.6"/><circle class="dr" cx="64.9" cy="314.4" r="0.6"/><circle class="rr" cx="66" cy="324.5" r="0.6"/><circle class="dr" cx="52.2" cy="305.7" r="0.6"/><circle class="r" cx="97.1" cy="241.3" r="0.6"/><circle class="lr" cx="51" cy="304.6" r="0.6"/><circle class="dr" cx="63.8" cy="327.2" r="0.6"/><circle class="r" cx="63.4" cy="246.8" r="0.6"/><circle class="dr" cx="58.5" cy="249.6" r="0.6"/><circle class="lr" cx="51.3" cy="233.8" r="0.6"/><circle class="lr" cx="53" cy="231.8" r="0.6"/><circle class="r" cx="52.6" cy="280.3" r="0.6"/><circle class="pk" cx="57.9" cy="241.6" r="0.6"/><circle class="dr" cx="59.3" cy="321.7" r="0.6"/><circle class="rr" cx="79.2" cy="325.9" r="0.6"/><circle class="r" cx="68.1" cy="325.3" r="0.6"/><circle class="rr" cx="66" cy="250.9" r="0.6"/><circle class="pk" cx="54.1" cy="240.7" r="0.6"/><circle class="r" cx="57.2" cy="316.6" r="0.6"/><circle class="pk" cx="52.4" cy="242.6" r="0.6"/><circle class="r" cx="53.9" cy="322.7" r="0.6"/><circle class="pk" cx="81.1" cy="317.3" r="0.6"/><circle class="dr" cx="55.5" cy="280.5" r="0.6"/><circle class="dr" cx="56.5" cy="241.3" r="0.6"/><circle class="r" cx="73.2" cy="323" r="0.6"/><circle class="pk" cx="51.9" cy="241.2" r="0.6"/><circle class="dr" cx="51.2" cy="304.4" r="0.6"/><circle class="rr" cx="63.4" cy="254.1" r="0.6"/><circle class="pk" cx="53.1" cy="306.4" r="0.6"/><circle class="r" cx="53.3" cy="284.2" r="0.6"/><circle class="lr" cx="52.7" cy="309.9" r="0.6"/><circle class="lr" cx="51.3" cy="315.2" r="0.6"/><circle class="lr" cx="89.4" cy="316.8" r="0.6"/><circle class="rr" cx="51" cy="295.7" r="0.6"/><circle class="lr" cx="55.6" cy="312.3" r="0.6"/><circle class="lr" cx="55.2" cy="311.8" r="0.6"/><circle class="pk" cx="52.2" cy="230" r="0.6"/><circle class="pk" cx="59.1" cy="323.9" r="0.6"/><circle class="pk" cx="69.4" cy="321.3" r="0.6"/><circle class="lr" cx="51.8" cy="317.5" r="0.6"/><circle class="dr" cx="65.4" cy="313.7" r="0.6"/><circle class="pk" cx="54.5" cy="310.3" r="0.6"/><circle class="rr" cx="51.4" cy="293" r="0.6"/><circle class="pk" cx="67.7" cy="313.5" r="0.6"/><circle class="pk" cx="91.7" cy="250.6" r="0.6"/><circle class="pk" cx="57.3" cy="306.4" r="0.6"/><circle class="lr" cx="76.4" cy="244.1" r="0.6"/><circle class="r" cx="124.2" cy="238.2" r="0.6"/><circle class="lr" cx="92.5" cy="312.7" r="0.6"/><circle class="r" cx="81.3" cy="233.4" r="0.6"/><circle class="r" cx="80" cy="241.4" r="0.6"/><circle class="pk" cx="72.4" cy="319.2" r="0.6"/><circle class="pk" cx="72.8" cy="312.2" r="0.6"/><circle class="r" cx="91.4" cy="326.1" r="0.6"/><circle class="r" cx="66.9" cy="237.8" r="0.5"/><circle class="lr" cx="97.9" cy="247.9" r="0.5"/></g><g fill-opacity="0.88" stroke-opacity=".6" stroke-width=".35"><circle class="db" cx="82.6" cy="220.4" r="7.0"/><circle class="bb" cx="91" cy="300" r="5.5"/></g><g fill-opacity="0.88" stroke-opacity=".6" stroke-width=".35"><circle class="tl" cx="83.3" cy="220.4" r="2.5"/></g></g><g clip-path="url(#cd)"><g fill-opacity="0.88" stroke-opacity=".6" stroke-width=".35"><circle class="pb" cx="360.7" cy="227.1" r="9.0"/><circle class="lb" cx="370.9" cy="267.5" r="7.5"/><circle class="pu" cx="353.9" cy="222.6" r="7.0"/><circle class="lb" cx="384" cy="288.1" r="7.0"/><circle class="cy" cx="373.5" cy="227.9" r="6.5"/><circle class="cy" cx="399" cy="288.1" r="6.5"/><circle class="cy2" cx="435.4" cy="288.1" r="6.5"/><circle class="cy" cx="357.8" cy="267.5" r="6.0"/><circle class="cy2" cx="360.4" cy="266" r="5.9"/><circle class="cy2" cx="355.5" cy="266" r="5.9"/><circle class="cy2" cx="349.7" cy="275.4" r="5.8"/><circle class="gg" cx="381.7" cy="337.9" r="5.8"/><circle class="gg" cx="405.4" cy="339" r="5.8"/><circle class="cy2" cx="352.5" cy="277.4" r="5.6"/><circle class="cy2" cx="357.1" cy="264.9" r="5.6"/><circle class="tg" cx="353.5" cy="266.7" r="5.5"/><circle class="cy" cx="362.2" cy="266.7" r="5.5"/><circle class="c" cx="355.3" cy="277.2" r="5.5"/><circle class="cy2" cx="352.6" cy="265.1" r="5.4"/><circle class="gg" cx="386.3" cy="338.2" r="5.3"/><circle class="cy2" cx="361.6" cy="267.1" r="5.2"/><circle class="cy" cx="351.8" cy="276.2" r="5.2"/><circle class="c" cx="365.8" cy="266.9" r="5.1"/><circle class="cy2" cx="354.1" cy="275.9" r="5.1"/><circle class="g" cx="388.5" cy="227.9" r="5.0"/><circle class="gg" cx="363.6" cy="287.1" r="5.0"/><circle class="gg" cx="368" cy="287.1" r="5.0"/><circle class="lg2" cx="371.2" cy="337.4" r="4.8"/><circle class="g" cx="395.3" cy="336.7" r="4.7"/><circle class="gg" cx="346.4" cy="275.8" r="4.5"/><circle class="gg" cx="357.8" cy="287.1" r="4.5"/><circle class="g" cx="377.5" cy="286.4" r="4.5"/><circle class="gg" cx="395.9" cy="336.6" r="4.5"/><circle class="g" cx="412" cy="339.5" r="4.5"/><circle class="gg" cx="344.8" cy="273.4" r="4.4"/><circle class="gg" cx="348.7" cy="264.4" r="4.4"/><circle class="g" cx="421.9" cy="336.6" r="4.2"/><circle class="gg" cx="347.4" cy="276" r="4.2"/><circle class="gg" cx="348.4" cy="273.4" r="4.1"/><circle class="g" cx="352.3" cy="264.6" r="4.0"/><circle class="lg" cx="347.1" cy="215.1" r="4.0"/><circle class="g" cx="344.8" cy="242.9" r="4.0"/><circle class="gg" cx="348.4" cy="266" r="4.0"/><circle class="tg" cx="344" cy="281.3" r="4.0"/><circle class="c" cx="350" cy="283" r="4.0"/><circle class="lg" cx="375.3" cy="285.6" r="4.0"/><circle class="g" cx="400" cy="338" r="4.0"/><circle class="gg" cx="350.5" cy="263.8" r="3.9"/><circle class="gg" cx="347.7" cy="264.2" r="3.9"/><circle class="lg" cx="341.1" cy="220.3" r="3.8"/><circle class="g" cx="403" cy="287.6" r="3.8"/><circle class="g" cx="427.8" cy="336.6" r="3.8"/><circle class="lg" cx="432.6" cy="278.6" r="3.6"/><circle class="lg" cx="339.6" cy="233.1" r="3.5"/><circle class="lg" cx="341.1" cy="245.9" r="3.5"/><circle class="lg" cx="349.1" cy="287.1" r="3.5"/><circle class="lg" cx="410.1" cy="232.9" r="3.2"/><circle class="y" cx="411.7" cy="278.6" r="3.2"/><circle class="lg" cx="413.6" cy="336.6" r="3.2"/><circle class="oy" cx="343.8" cy="273.9" r="3.2"/><circle class="y" cx="341.2" cy="272.8" r="3.2"/><circle class="y" cx="342.4" cy="264.5" r="3.1"/><circle class="yg" cx="345.7" cy="265" r="3.0"/><circle class="y" cx="337.3" cy="223.3" r="3.0"/><circle class="oy" cx="338.1" cy="221.1" r="3.0"/><circle class="y" cx="357.7" cy="248.2" r="3.0"/><circle class="lg" cx="344.8" cy="249" r="3.0"/><circle class="y" cx="344.7" cy="266" r="3.0"/><circle class="y" cx="368" cy="278.4" r="3.0"/><circle class="oy" cx="338.2" cy="287.1" r="3.0"/><circle class="lg" cx="340" cy="288" r="3.0"/><circle class="y" cx="351.3" cy="287.5" r="3.0"/><circle class="do" cx="337.3" cy="332.2" r="3.0"/><circle class="do" cx="339.6" cy="333.7" r="3.0"/><circle class="yg" cx="350.1" cy="335.2" r="3.0"/><circle class="lg" cx="346.4" cy="336.7" r="3.0"/><circle class="y" cx="353.1" cy="336.7" r="3.0"/><circle class="y" cx="359.9" cy="335.9" r="3.0"/><circle class="oy" cx="404.2" cy="335.5" r="3.0"/><circle class="y" cx="459.7" cy="335" r="3.0"/></g><g fill-opacity="0.88" stroke-opacity=".6" stroke-width=".35"><circle class="oy" cx="342.9" cy="274.3" r="2.9"/><circle class="oy" cx="344.3" cy="264.9" r="2.9"/><circle class="y" cx="350.1" cy="232.4" r="2.8"/><circle class="y" cx="337.3" cy="247.4" r="2.8"/><circle class="y" cx="349.4" cy="248.5" r="2.8"/><circle class="y" cx="478.7" cy="278.2" r="2.8"/><circle class="y" cx="474.4" cy="285.7" r="2.8"/><circle class="do" cx="359.2" cy="330.7" r="2.8"/><circle class="y" cx="465.2" cy="334.5" r="2.8"/><circle class="do" cx="341" cy="271.5" r="2.6"/><circle class="do" cx="339.2" cy="273.3" r="2.5"/><circle class="do" cx="341.1" cy="231.6" r="2.5"/><circle class="do" cx="338.9" cy="264.5" r="2.5"/><circle class="do" cx="341.8" cy="265" r="2.5"/><circle class="y" cx="336.3" cy="277.6" r="2.5"/><circle class="do" cx="344" cy="333" r="2.5"/><circle class="do" cx="347.9" cy="329.9" r="2.5"/><circle class="do" cx="351.6" cy="331.9" r="2.5"/><circle class="do" cx="354.6" cy="332.9" r="2.5"/><circle class="o" cx="359.9" cy="333.7" r="2.5"/><circle class="y" cx="408.4" cy="335" r="2.5"/><circle class="do" cx="337.8" cy="264.3" r="2.5"/><circle class="do" cx="337.5" cy="270.8" r="2.5"/><circle class="do" cx="341.3" cy="262.3" r="2.4"/><circle class="o" cx="337.7" cy="273" r="2.4"/><circle class="do" cx="335.8" cy="262.2" r="2.4"/><circle class="o" cx="339.4" cy="272.6" r="2.4"/><circle class="do" cx="339.8" cy="263.7" r="2.4"/><circle class="do" cx="340.8" cy="264.6" r="2.3"/><circle class="o" cx="336.4" cy="272.6" r="2.2"/><circle class="o" cx="337.6" cy="263.3" r="2.2"/><circle class="oy" cx="343" cy="246" r="2.2"/><circle class="o" cx="336.7" cy="284.9" r="2.2"/><circle class="o" cx="354.2" cy="285.6" r="2.2"/><circle class="o" cx="335" cy="331" r="2.2"/><circle class="o" cx="342" cy="330" r="2.2"/><circle class="o" cx="339" cy="226" r="2.0"/><circle class="o2" cx="343" cy="226" r="2.0"/><circle class="o" cx="403.5" cy="232.5" r="2.0"/><circle class="o" cx="423.6" cy="232" r="2.0"/><circle class="o" cx="443.2" cy="232" r="2.0"/><circle class="o" cx="447.4" cy="232" r="2.0"/><circle class="o" cx="466.1" cy="231.3" r="2.0"/><circle class="o" cx="340" cy="248" r="2.0"/><circle class="o" cx="350.5" cy="284.2" r="2.0"/><circle class="br" cx="384" cy="285.6" r="2.0"/><circle class="r" cx="333.6" cy="328.4" r="2.0"/><circle class="o2" cx="365.2" cy="331.4" r="2.0"/><circle class="o2" cx="390" cy="332.9" r="2.0"/><circle class="o2" cx="334.3" cy="215.1" r="1.8"/><circle class="o2" cx="345.6" cy="227.9" r="1.8"/><circle class="o" cx="486.5" cy="230.8" r="1.8"/><circle class="o" cx="338.8" cy="244.4" r="1.8"/><circle class="o" cx="374.5" cy="276.9" r="1.8"/><circle class="o" cx="444.8" cy="277.9" r="1.8"/><circle class="or" cx="336" cy="326" r="1.8"/><circle class="o2" cx="372.7" cy="331.4" r="1.8"/><circle class="o2" cx="375" cy="330.7" r="1.8"/><circle class="o2" cx="417.2" cy="333.1" r="1.8"/><circle class="o2" cx="391.2" cy="333.1" r="1.8"/><circle class="o" cx="336" cy="230" r="1.6"/><circle class="o" cx="385.7" cy="276.2" r="1.6"/><circle class="o" cx="457.8" cy="277.5" r="1.6"/><circle class="o" cx="416.5" cy="285.3" r="1.6"/><circle class="or" cx="352" cy="327" r="1.6"/><circle class="or" cx="358" cy="327" r="1.6"/><circle class="o" cx="405.4" cy="285" r="1.5"/><circle class="dr" cx="334" cy="262.7" r="1.4"/><circle class="o" cx="460.9" cy="277" r="1.4"/><circle class="rr" cx="334.9" cy="262.8" r="1.4"/><circle class="rr" cx="336" cy="262.6" r="1.3"/><circle class="dr" cx="334.3" cy="256.6" r="1.3"/><circle class="rr" cx="334.7" cy="270.4" r="1.3"/><circle class="dr" cx="335.8" cy="259.7" r="1.2"/><circle class="rr" cx="333.2" cy="271.6" r="1.2"/><circle class="r" cx="334.3" cy="270.9" r="1.2"/><circle class="o" cx="425.9" cy="230.1" r="1.2"/><circle class="r" cx="379.3" cy="276.2" r="1.2"/><circle class="r" cx="448.4" cy="276.3" r="1.2"/><circle class="o" cx="365.1" cy="284.2" r="1.2"/><circle class="o" cx="370.2" cy="284.9" r="1.2"/><circle class="r" cx="388.5" cy="327.7" r="1.2"/><circle class="r" cx="392" cy="327.3" r="1.2"/></g><g fill-opacity="0.9" stroke-opacity=".6" stroke-width=".35"><circle class="r" cx="334.3" cy="270.6" r="1.2"/><circle class="dr" cx="331.8" cy="252.7" r="1.2"/><circle class="dr" cx="334.3" cy="257.8" r="1.2"/><circle class="r" cx="333.3" cy="269.3" r="1.1"/><circle class="r" cx="334.4" cy="261.4" r="1.1"/><circle class="rr" cx="336" cy="272.4" r="1.1"/><circle class="r" cx="350.9" cy="323.9" r="1.1"/><circle class="dr" cx="336.1" cy="317.7" r="1.1"/><circle class="r" cx="359.8" cy="326.9" r="1.1"/><circle class="lr" cx="343.6" cy="326.3" r="1.1"/><circle class="dr" cx="347" cy="326.4" r="1.1"/><circle class="dr" cx="352.1" cy="321.9" r="1.1"/><circle class="r" cx="335.7" cy="246.1" r="1.1"/><circle class="r" cx="335.2" cy="270.1" r="1.1"/><circle class="dr" cx="353.8" cy="323.8" r="1.1"/><circle class="dr" cx="332.2" cy="262.9" r="1.1"/><circle class="r" cx="331" cy="223.5" r="1.1"/><circle class="r" cx="339.5" cy="319.4" r="1.1"/><circle class="r" cx="333.3" cy="261.7" r="1.1"/><circle class="r" cx="332.2" cy="267.9" r="1.1"/><circle class="pk" cx="366.6" cy="329.2" r="1.1"/><circle class="lr" cx="360.2" cy="325.2" r="1.0"/><circle class="r" cx="343" cy="327.5" r="1.0"/><circle class="pk" cx="344.1" cy="318.4" r="1.0"/><circle class="r" cx="332.9" cy="226.4" r="1.0"/><circle class="r" cx="349" cy="322.2" r="1.0"/><circle class="pk" cx="354" cy="323.8" r="1.0"/><circle class="dr" cx="348.7" cy="318.5" r="1.0"/><circle class="lr" cx="345.4" cy="320.8" r="1.0"/><circle class="pk" cx="357.9" cy="322.5" r="1.0"/><circle class="dr" cx="333.1" cy="219.5" r="1.0"/><circle class="r" cx="348.8" cy="319.4" r="1.0"/><circle class="dr" cx="339.7" cy="327.1" r="1.0"/><circle class="r" cx="341.3" cy="326.6" r="1.0"/><circle class="r" cx="335.2" cy="271.2" r="1.0"/><circle class="dr" cx="332.9" cy="217.8" r="1.0"/><circle class="r" cx="391.9" cy="327.7" r="1.0"/><circle class="dr" cx="350.9" cy="323.2" r="1.0"/><circle class="dr" cx="358.7" cy="329.8" r="1.0"/><circle class="r" cx="336.5" cy="248.4" r="1.0"/><circle class="dr" cx="335" cy="259.1" r="1.0"/><circle class="dr" cx="332.1" cy="215.1" r="1.0"/><circle class="r" cx="333" cy="242" r="1.0"/><circle class="r" cx="332.1" cy="267.9" r="1.0"/><circle class="lr" cx="343.5" cy="320.4" r="1.0"/><circle class="r" cx="341" cy="308" r="0.9"/><circle class="lr" cx="336.1" cy="296.8" r="0.9"/><circle class="r" cx="337.3" cy="327.7" r="0.9"/><circle class="r" cx="333.3" cy="269.1" r="0.9"/><circle class="lr" cx="342.7" cy="321.5" r="0.9"/><circle class="dr" cx="345.9" cy="319" r="0.9"/><circle class="r" cx="350.1" cy="318.5" r="0.9"/><circle class="lr" cx="345" cy="321.7" r="0.9"/><circle class="pk" cx="338.1" cy="318.3" r="0.9"/><circle class="pk" cx="346.5" cy="329.4" r="0.9"/><circle class="pk" cx="345.1" cy="325.1" r="0.9"/><circle class="pk" cx="332.1" cy="296.2" r="0.9"/><circle class="dr" cx="334.8" cy="302.5" r="0.9"/><circle class="dr" cx="331.5" cy="251.1" r="0.9"/><circle class="lr" cx="338.6" cy="302.9" r="0.9"/><circle class="lr" cx="335.5" cy="308.8" r="0.9"/><circle class="pk" cx="336.9" cy="309.5" r="0.9"/><circle class="pk" cx="339.6" cy="301.7" r="0.9"/><circle class="dr" cx="334.8" cy="311.6" r="0.9"/><circle class="pk" cx="334.8" cy="314.7" r="0.9"/><circle class="pk" cx="339.8" cy="315" r="0.9"/><circle class="pk" cx="354.3" cy="323.6" r="0.9"/><circle class="dr" cx="334" cy="323.4" r="0.9"/><circle class="pk" cx="336.1" cy="303.6" r="0.9"/><circle class="lr" cx="336.6" cy="323.8" r="0.9"/><circle class="dr" cx="337.4" cy="326.3" r="0.9"/><circle class="pk" cx="334.1" cy="293.5" r="0.9"/><circle class="r" cx="337.3" cy="249.4" r="0.9"/><circle class="r" cx="337.9" cy="301.3" r="0.9"/><circle class="lr" cx="338.6" cy="321.3" r="0.9"/><circle class="dr" cx="333.7" cy="219.6" r="0.9"/><circle class="pk" cx="361.2" cy="324.5" r="0.9"/></g><g fill-opacity="0.9" stroke-width="0"><circle class="pk" cx="334.5" cy="302" r="0.9"/><circle class="pk" cx="334.6" cy="315.2" r="0.9"/><circle class="dr" cx="343.5" cy="316.5" r="0.9"/><circle class="r" cx="335.7" cy="322.5" r="0.9"/><circle class="dr" cx="330.8" cy="290.4" r="0.9"/><circle class="pk" cx="352.3" cy="323.7" r="0.9"/><circle class="lr" cx="345.5" cy="320.1" r="0.9"/><circle class="pk" cx="351.2" cy="327.4" r="0.9"/><circle class="pk" cx="336.6" cy="295.7" r="0.9"/><circle class="lr" cx="340.3" cy="320" r="0.9"/><circle class="pk" cx="342" cy="319.9" r="0.9"/><circle class="dr" cx="332.3" cy="296" r="0.9"/><circle class="dr" cx="340.2" cy="318.6" r="0.9"/><circle class="lr" cx="341.1" cy="309.8" r="0.9"/><circle class="pk" cx="342.6" cy="327.6" r="0.9"/><circle class="r" cx="331.8" cy="282.6" r="0.9"/><circle class="pk" cx="336.8" cy="298.1" r="0.9"/><circle class="dr" cx="340.7" cy="310.3" r="0.9"/><circle class="lr" cx="342.5" cy="324.5" r="0.9"/><circle class="pk" cx="337.6" cy="325.4" r="0.9"/><circle class="r" cx="331.2" cy="266.7" r="0.9"/><circle class="pk" cx="347.1" cy="314.9" r="0.9"/><circle class="lr" cx="367.4" cy="329.4" r="0.9"/><circle class="r" cx="332.3" cy="283.4" r="0.9"/><circle class="pk" cx="335.5" cy="300.6" r="0.9"/><circle class="pk" cx="338" cy="302.2" r="0.9"/><circle class="pk" cx="334.4" cy="290.9" r="0.8"/><circle class="lr" cx="341.3" cy="305.5" r="0.8"/><circle class="r" cx="333.6" cy="329.1" r="0.8"/><circle class="r" cx="357" cy="324.2" r="0.8"/><circle class="lr" cx="347.7" cy="320.5" r="0.8"/><circle class="pk" cx="337.3" cy="314.1" r="0.8"/><circle class="dr" cx="356.6" cy="325.2" r="0.8"/><circle class="r" cx="341.4" cy="324.6" r="0.8"/><circle class="pk" cx="343.4" cy="326.8" r="0.8"/><circle class="dr" cx="349.5" cy="325.3" r="0.8"/><circle class="pk" cx="341.1" cy="317.7" r="0.8"/><circle class="dr" cx="336.2" cy="307.9" r="0.8"/><circle class="pk" cx="343.3" cy="322.5" r="0.8"/><circle class="pk" cx="331.7" cy="312.6" r="0.8"/><circle class="pk" cx="339.2" cy="315.7" r="0.8"/><circle class="pk" cx="337.8" cy="321.1" r="0.8"/><circle class="pk" cx="332.5" cy="298" r="0.8"/><circle class="r" cx="336.6" cy="317.6" r="0.8"/><circle class="pk" cx="351.5" cy="326" r="0.8"/><circle class="r" cx="336.2" cy="297" r="0.8"/><circle class="r" cx="332.4" cy="300.3" r="0.8"/><circle class="lr" cx="349.8" cy="327.8" r="0.8"/><circle class="r" cx="339.1" cy="312.5" r="0.8"/><circle class="lr" cx="343.9" cy="321" r="0.8"/><circle class="dr" cx="336.4" cy="261.3" r="0.8"/><circle class="dr" cx="333.7" cy="254.5" r="0.8"/><circle class="pk" cx="344.3" cy="320.2" r="0.8"/><circle class="lr" cx="357.2" cy="322.7" r="0.8"/><circle class="r" cx="337.6" cy="326.8" r="0.8"/><circle class="r" cx="341.8" cy="326.1" r="0.8"/><circle class="pk" cx="335" cy="310.5" r="0.8"/><circle class="dr" cx="344.6" cy="321.8" r="0.8"/><circle class="r" cx="339.7" cy="306.1" r="0.8"/><circle class="pk" cx="343.1" cy="307.1" r="0.8"/><circle class="pk" cx="341.2" cy="316.7" r="0.8"/><circle class="lr" cx="333.3" cy="319.1" r="0.8"/><circle class="dr" cx="332.4" cy="305.5" r="0.8"/><circle class="pk" cx="338" cy="327.2" r="0.8"/><circle class="r" cx="333.6" cy="227.4" r="0.8"/><circle class="r" cx="331.6" cy="237.6" r="0.8"/><circle class="pk" cx="331.4" cy="318.9" r="0.8"/><circle class="r" cx="332.9" cy="296.1" r="0.8"/><circle class="pk" cx="335.3" cy="297.1" r="0.8"/><circle class="r" cx="347.8" cy="315.6" r="0.8"/><circle class="r" cx="361" cy="326.5" r="0.8"/><circle class="dr" cx="333" cy="254.9" r="0.8"/><circle class="dr" cx="330.9" cy="213.4" r="0.8"/><circle class="r" cx="352.8" cy="257.7" r="0.8"/><circle class="r" cx="493.3" cy="275.8" r="0.8"/><circle class="dr" cx="330.7" cy="212.5" r="0.8"/><circle class="lr" cx="338.8" cy="319.1" r="0.8"/><circle class="pk" cx="354.3" cy="328.1" r="0.8"/><circle class="pk" cx="343" cy="329.7" r="0.8"/><circle class="r" cx="342" cy="305.2" r="0.8"/><circle class="r" cx="338.4" cy="319.2" r="0.8"/><circle class="r" cx="330.6" cy="266.4" r="0.8"/><circle class="lr" cx="338.9" cy="321.2" r="0.8"/><circle class="r" cx="339.6" cy="315.9" r="0.8"/><circle class="lr" cx="367.6" cy="305.1" r="0.8"/><circle class="pk" cx="338.2" cy="301.9" r="0.8"/><circle class="lr" cx="348.3" cy="326.8" r="0.8"/><circle class="dr" cx="360.7" cy="327.3" r="0.8"/><circle class="r" cx="337.9" cy="313.6" r="0.8"/><circle class="lr" cx="340.4" cy="325.9" r="0.8"/><circle class="pk" cx="336.9" cy="295.9" r="0.8"/><circle class="pk" cx="340.2" cy="316.7" r="0.8"/><circle class="pk" cx="352.7" cy="309.6" r="0.8"/><circle class="pk" cx="331.8" cy="322.5" r="0.8"/><circle class="pk" cx="339.6" cy="328" r="0.8"/><circle class="dr" cx="331.4" cy="292.6" r="0.8"/><circle class="pk" cx="332.8" cy="292.6" r="0.8"/><circle class="r" cx="356.6" cy="314.9" r="0.8"/><circle class="r" cx="336" cy="232" r="0.8"/><circle class="lr" cx="334.4" cy="296.2" r="0.8"/><circle class="dr" cx="334.9" cy="295" r="0.8"/><circle class="pk" cx="350" cy="329.2" r="0.8"/><circle class="pk" cx="334.4" cy="317.4" r="0.8"/><circle class="pk" cx="341" cy="316" r="0.8"/><circle class="lr" cx="351.3" cy="320.6" r="0.8"/><circle class="r" cx="334.3" cy="243.1" r="0.8"/><circle class="r" cx="334.1" cy="323.5" r="0.8"/><circle class="r" cx="332.1" cy="240.5" r="0.8"/><circle class="dr" cx="332.6" cy="253.6" r="0.8"/><circle class="r" cx="335.2" cy="300" r="0.8"/><circle class="pk" cx="338" cy="308.3" r="0.8"/><circle class="lr" cx="335.7" cy="304.9" r="0.8"/><circle class="pk" cx="337.6" cy="311.9" r="0.8"/><circle class="pk" cx="330.9" cy="316.1" r="0.8"/><circle class="dr" cx="333" cy="218" r="0.8"/><circle class="lr" cx="337.8" cy="314" r="0.8"/><circle class="dr" cx="332.4" cy="293.8" r="0.8"/><circle class="r" cx="332.2" cy="225.2" r="0.8"/><circle class="r" cx="343.6" cy="326.8" r="0.7"/><circle class="pk" cx="335.9" cy="302.5" r="0.7"/><circle class="pk" cx="335.4" cy="303.1" r="0.7"/><circle class="pk" cx="340" cy="322" r="0.7"/><circle class="pk" cx="336.1" cy="298.8" r="0.7"/><circle class="dr" cx="343.1" cy="318.2" r="0.7"/><circle class="r" cx="334.7" cy="231" r="0.7"/><circle class="lr" cx="359.4" cy="315.8" r="0.7"/><circle class="lr" cx="355.3" cy="321.5" r="0.7"/><circle class="pk" cx="332.3" cy="303.1" r="0.7"/><circle class="dr" cx="331.5" cy="215.7" r="0.7"/><circle class="r" cx="348.8" cy="311.1" r="0.7"/><circle class="r" cx="331.3" cy="239.3" r="0.7"/><circle class="pk" cx="364.1" cy="325.6" r="0.7"/><circle class="pk" cx="341.3" cy="309.2" r="0.7"/><circle class="pk" cx="337.1" cy="304.9" r="0.7"/><circle class="pk" cx="338.6" cy="326.4" r="0.7"/><circle class="r" cx="331.1" cy="296.4" r="0.7"/><circle class="lr" cx="337.5" cy="301" r="0.7"/><circle class="pk" cx="336.4" cy="297.2" r="0.7"/><circle class="pk" cx="333.7" cy="321.4" r="0.7"/><circle class="dr" cx="335.9" cy="320.1" r="0.7"/><circle class="pk" cx="338.4" cy="328.8" r="0.7"/><circle class="r" cx="359" cy="294.8" r="0.7"/><circle class="r" cx="367.5" cy="322" r="0.7"/><circle class="dr" cx="342.8" cy="317.1" r="0.7"/><circle class="dr" cx="334.2" cy="255.7" r="0.7"/><circle class="lr" cx="333" cy="302.9" r="0.7"/><circle class="dr" cx="341.1" cy="313" r="0.7"/><circle class="dr" cx="332.5" cy="305.9" r="0.7"/><circle class="dr" cx="335.2" cy="259.2" r="0.7"/><circle class="lr" cx="352.5" cy="323.5" r="0.7"/><circle class="pk" cx="343.4" cy="326.5" r="0.7"/><circle class="r" cx="339.3" cy="320.9" r="0.7"/><circle class="r" cx="331.2" cy="279.4" r="0.7"/><circle class="dr" cx="336.7" cy="260.8" r="0.7"/><circle class="r" cx="350.8" cy="324.1" r="0.7"/><circle class="pk" cx="330.9" cy="298.2" r="0.7"/><circle class="r" cx="334.7" cy="298.7" r="0.7"/><circle class="r" cx="342.6" cy="329.1" r="0.7"/><circle class="lr" cx="360.5" cy="324.5" r="0.7"/><circle class="lr" cx="352.8" cy="324.4" r="0.7"/><circle class="dr" cx="331.7" cy="216.1" r="0.7"/><circle class="r" cx="341.8" cy="321" r="0.7"/><circle class="dr" cx="332.5" cy="252.1" r="0.7"/><circle class="pk" cx="331.8" cy="301" r="0.7"/><circle class="r" cx="331.8" cy="295.1" r="0.7"/><circle class="pk" cx="360.9" cy="329.6" r="0.7"/><circle class="dr" cx="347.4" cy="318.1" r="0.7"/><circle class="pk" cx="333.5" cy="302.2" r="0.7"/><circle class="lr" cx="339.1" cy="322" r="0.7"/><circle class="r" cx="398.7" cy="313.5" r="0.7"/><circle class="pk" cx="360.5" cy="310.7" r="0.7"/><circle class="pk" cx="333.3" cy="315.8" r="0.7"/><circle class="r" cx="339.6" cy="314.9" r="0.7"/><circle class="r" cx="336.9" cy="320.1" r="0.7"/><circle class="r" cx="337.2" cy="323.2" r="0.7"/><circle class="pk" cx="341.6" cy="322.1" r="0.7"/><circle class="pk" cx="334.1" cy="298" r="0.7"/><circle class="r" cx="331.1" cy="319.4" r="0.7"/><circle class="pk" cx="352.7" cy="312.7" r="0.7"/><circle class="lr" cx="343" cy="320.9" r="0.7"/><circle class="pk" cx="342.1" cy="323.9" r="0.7"/><circle class="r" cx="338.4" cy="249.8" r="0.7"/><circle class="r" cx="352.7" cy="315" r="0.7"/><circle class="dr" cx="334.1" cy="302.8" r="0.7"/><circle class="r" cx="355.1" cy="329.7" r="0.7"/><circle class="lr" cx="362" cy="311.3" r="0.7"/><circle class="dr" cx="333.7" cy="221" r="0.7"/><circle class="dr" cx="336.9" cy="324.4" r="0.7"/><circle class="dr" cx="334.6" cy="303.9" r="0.7"/><circle class="dr" cx="335.6" cy="326.3" r="0.7"/><circle class="dr" cx="336.4" cy="318.6" r="0.7"/><circle class="dr" cx="345.3" cy="328.1" r="0.7"/><circle class="pk" cx="345.8" cy="319.3" r="0.7"/><circle class="r" cx="332.1" cy="329.3" r="0.7"/><circle class="r" cx="330.9" cy="281.6" r="0.7"/><circle class="r" cx="334" cy="228.5" r="0.7"/><circle class="pk" cx="354.1" cy="321.4" r="0.7"/><circle class="pk" cx="334.1" cy="300" r="0.7"/><circle class="lr" cx="346.9" cy="297.1" r="0.7"/><circle class="dr" cx="338.2" cy="307.2" r="0.7"/><circle class="r" cx="343.7" cy="324.6" r="0.7"/><circle class="r" cx="335.5" cy="323.3" r="0.7"/><circle class="pk" cx="340.9" cy="320.3" r="0.7"/><circle class="lr" cx="336.7" cy="304.7" r="0.7"/><circle class="r" cx="342.7" cy="328.4" r="0.7"/><circle class="r" cx="360.9" cy="292.7" r="0.7"/><circle class="lr" cx="340.7" cy="299.3" r="0.7"/><circle class="pk" cx="364.8" cy="303.5" r="0.7"/><circle class="r" cx="336.1" cy="322.5" r="0.7"/><circle class="pk" cx="339.5" cy="307.1" r="0.7"/><circle class="lr" cx="348.4" cy="328.4" r="0.7"/><circle class="pk" cx="333" cy="316.2" r="0.7"/><circle class="r" cx="352.3" cy="328.3" r="0.7"/><circle class="pk" cx="334" cy="300.8" r="0.7"/><circle class="dr" cx="334.1" cy="291.1" r="0.7"/><circle class="lr" cx="351.5" cy="322.6" r="0.7"/><circle class="pk" cx="333.5" cy="304" r="0.7"/><circle class="lr" cx="337.1" cy="311.9" r="0.7"/><circle class="lr" cx="354.1" cy="323.1" r="0.7"/><circle class="r" cx="339.4" cy="320" r="0.7"/><circle class="pk" cx="336.5" cy="313.5" r="0.7"/><circle class="dr" cx="333" cy="325.9" r="0.7"/><circle class="r" cx="338.5" cy="316.7" r="0.7"/><circle class="r" cx="347.1" cy="298.7" r="0.7"/><circle class="pk" cx="342.4" cy="312.4" r="0.7"/><circle class="r" cx="353.2" cy="320.9" r="0.7"/><circle class="pk" cx="332.2" cy="301.8" r="0.7"/><circle class="lr" cx="356.9" cy="324" r="0.7"/><circle class="dr" cx="335.2" cy="293" r="0.7"/><circle class="r" cx="333" cy="241.8" r="0.7"/><circle class="pk" cx="355.7" cy="327.4" r="0.7"/><circle class="pk" cx="338.8" cy="329.1" r="0.6"/><circle class="dr" cx="334.7" cy="324.1" r="0.6"/><circle class="pk" cx="336.1" cy="300.2" r="0.6"/><circle class="lr" cx="339" cy="318.7" r="0.6"/><circle class="lr" cx="339.1" cy="302.3" r="0.6"/><circle class="pk" cx="343.9" cy="320.8" r="0.6"/><circle class="lr" cx="331.3" cy="309.9" r="0.6"/><circle class="pk" cx="336.1" cy="300.7" r="0.6"/><circle class="lr" cx="336.9" cy="310.6" r="0.6"/><circle class="pk" cx="343.6" cy="320.7" r="0.6"/><circle class="lr" cx="340.8" cy="326.7" r="0.6"/><circle class="pk" cx="336" cy="303.5" r="0.6"/><circle class="dr" cx="334" cy="297.8" r="0.6"/><circle class="pk" cx="344.4" cy="324.6" r="0.6"/><circle class="r" cx="333.7" cy="302.6" r="0.6"/><circle class="pk" cx="338.8" cy="299.4" r="0.6"/><circle class="dr" cx="331.9" cy="292" r="0.6"/><circle class="r" cx="334.3" cy="230.1" r="0.6"/><circle class="dr" cx="335.5" cy="299.4" r="0.6"/><circle class="r" cx="334.4" cy="244.5" r="0.6"/><circle class="pk" cx="337.9" cy="311.4" r="0.6"/><circle class="pk" cx="340.7" cy="319.7" r="0.6"/><circle class="pk" cx="342.2" cy="323.4" r="0.6"/><circle class="r" cx="331.6" cy="284.5" r="0.6"/><circle class="r" cx="336" cy="302.5" r="0.6"/><circle class="lr" cx="349.8" cy="321.5" r="0.6"/><circle class="r" cx="340.6" cy="320.2" r="0.6"/><circle class="r" cx="336.9" cy="311" r="0.6"/><circle class="lr" cx="342.7" cy="324.9" r="0.6"/><circle class="lr" cx="334.7" cy="293.7" r="0.6"/><circle class="r" cx="336.4" cy="247.3" r="0.6"/><circle class="pk" cx="336.9" cy="301.4" r="0.6"/><circle class="r" cx="355.7" cy="298.7" r="0.6"/><circle class="pk" cx="354.9" cy="325.2" r="0.6"/><circle class="pk" cx="332.1" cy="322.9" r="0.6"/><circle class="dr" cx="342.9" cy="317.6" r="0.6"/><circle class="r" cx="340.7" cy="314.8" r="0.6"/><circle class="r" cx="380" cy="310" r="0.6"/><circle class="pk" cx="333.3" cy="295.5" r="0.6"/><circle class="r" cx="332.4" cy="307.3" r="0.6"/><circle class="pk" cx="363.8" cy="305" r="0.6"/><circle class="r" cx="354.2" cy="307.3" r="0.6"/><circle class="pk" cx="337.2" cy="325.8" r="0.6"/><circle class="lr" cx="346.3" cy="320.8" r="0.6"/><circle class="lr" cx="343.2" cy="311.4" r="0.6"/><circle class="pk" cx="331.3" cy="322.1" r="0.6"/><circle class="pk" cx="333.8" cy="292.1" r="0.6"/><circle class="pk" cx="344.1" cy="318.7" r="0.6"/><circle class="pk" cx="332.5" cy="316.8" r="0.6"/><circle class="pk" cx="331" cy="294.8" r="0.6"/><circle class="pk" cx="354.6" cy="326.4" r="0.6"/><circle class="pk" cx="342.1" cy="325.8" r="0.6"/><circle class="pk" cx="338.8" cy="314.6" r="0.6"/><circle class="r" cx="336.7" cy="305.8" r="0.6"/><circle class="pk" cx="344.4" cy="307.7" r="0.6"/><circle class="r" cx="335.4" cy="309.8" r="0.6"/><circle class="pk" cx="331.5" cy="309.3" r="0.6"/><circle class="r" cx="339.1" cy="317.3" r="0.6"/><circle class="r" cx="353.3" cy="308.6" r="0.6"/><circle class="lr" cx="342.5" cy="316.5" r="0.6"/><circle class="r" cx="333" cy="297.3" r="0.6"/><circle class="pk" cx="333.1" cy="299.1" r="0.6"/><circle class="dr" cx="334.8" cy="303.9" r="0.6"/><circle class="r" cx="358.9" cy="299.9" r="0.6"/><circle class="pk" cx="333.9" cy="300.1" r="0.6"/><circle class="r" cx="338.5" cy="315.6" r="0.6"/><circle class="pk" cx="368.4" cy="322.6" r="0.6"/><circle class="r" cx="341.5" cy="322" r="0.6"/><circle class="pk" cx="343" cy="312.1" r="0.6"/><circle class="r" cx="332.2" cy="307.3" r="0.5"/><circle class="pk" cx="335.7" cy="310.5" r="0.5"/><circle class="r" cx="347.9" cy="318" r="0.5"/><circle class="lr" cx="332.9" cy="292" r="0.5"/><circle class="pk" cx="343" cy="316.7" r="0.5"/><circle class="lr" cx="343.6" cy="296.6" r="0.5"/><circle class="r" cx="336.8" cy="310.8" r="0.5"/><circle class="lr" cx="331.2" cy="300.5" r="0.5"/><circle class="pk" cx="331.7" cy="318.1" r="0.5"/><circle class="pk" cx="331.8" cy="302.3" r="0.5"/><circle class="pk" cx="364.7" cy="297.5" r="0.5"/><circle class="pk" cx="344.3" cy="317.7" r="0.5"/><circle class="dr" cx="332.3" cy="322.2" r="0.5"/><circle class="pk" cx="343" cy="324.2" r="0.5"/><circle class="pk" cx="341.8" cy="310.8" r="0.5"/><circle class="pk" cx="333.4" cy="301" r="0.5"/><circle class="lr" cx="341" cy="319" r="0.5"/><circle class="lr" cx="369.7" cy="292.5" r="0.5"/><circle class="dr" cx="334.2" cy="296.8" r="0.5"/><circle class="pk" cx="338.9" cy="298.1" r="0.5"/><circle class="pk" cx="347.1" cy="326.4" r="0.5"/><circle class="pk" cx="331" cy="330.9" r="0.5"/><circle class="lr" cx="369.5" cy="315.7" r="0.5"/><circle class="r" cx="408.9" cy="302.8" r="0.5"/><circle class="r" cx="385" cy="305" r="0.5"/><circle class="pk" cx="344" cy="301.4" r="0.5"/><circle class="r" cx="347.6" cy="298.4" r="0.5"/><circle class="pk" cx="350.8" cy="299.6" r="0.5"/><circle class="pk" cx="344.5" cy="326.1" r="0.5"/><circle class="pk" cx="370.8" cy="294.4" r="0.4"/></g><g fill-opacity="0.88" stroke-opacity=".6" stroke-width=".35"><circle class="db" cx="360.7" cy="223.3" r="10.0"/><circle class="bb" cx="349.1" cy="279.5" r="6.0"/><circle class="bb" cx="354" cy="279" r="5.5"/><circle class="cy" cx="351" cy="276" r="4.0"/></g></g>
<g>
<path d="M32.3 2V152.2H236.3" fill="none" stroke="#3a3a3a" stroke-width="1.1"/>
<text x="50.80" y="162.40" text-anchor="middle" font-size="6.3" fill="#222">0</text>
<text x="87.90" y="162.40" text-anchor="middle" font-size="6.3" fill="#222">20</text>
<text x="125.00" y="162.40" text-anchor="middle" font-size="6.3" fill="#222">40</text>
<text x="162.10" y="162.40" text-anchor="middle" font-size="6.3" fill="#222">60</text>
<text x="199.20" y="162.40" text-anchor="middle" font-size="6.3" fill="#222">80</text>
<text x="236.30" y="162.40" text-anchor="middle" font-size="6.3" fill="#222">100</text>
<path d="M32.25 152.2v1.6 M50.80 152.2v3.0 M69.35 152.2v1.6 M87.90 152.2v3.0 M106.45 152.2v1.6 M125.00 152.2v3.0 M143.55 152.2v1.6 M162.10 152.2v3.0 M180.65 152.2v1.6 M199.20 152.2v3.0 M217.75 152.2v1.6 M236.30 152.2v3.0 M32.3 11.00h-1.6 M32.3 19.76h-3.0 M32.3 28.52h-1.6 M32.3 37.28h-3.0 M32.3 46.04h-1.6 M32.3 54.80h-3.0 M32.3 63.56h-1.6 M32.3 72.32h-3.0 M32.3 81.08h-1.6 M32.3 89.84h-3.0 M32.3 98.60h-1.6 M32.3 107.36h-3.0 M32.3 116.12h-1.6 M32.3 124.88h-3.0 M32.3 133.64h-1.6 M32.3 142.40h-3.0" stroke="#3a3a3a" stroke-width="1.0" fill="none"/>
<text transform="translate(27.80 20.96) rotate(-58)" text-anchor="end" font-size="5.7" fill="#111" stroke="#111" stroke-width="0.12">InterPro</text>
<text transform="translate(27.80 38.48) rotate(-58)" text-anchor="end" font-size="5.7" fill="#111" stroke="#111" stroke-width="0.12">COMPARTMENTS</text>
<text transform="translate(27.80 56.00) rotate(-58)" text-anchor="end" font-size="5.7" fill="#111" stroke="#111" stroke-width="0.12">Reactome</text>
<text transform="translate(27.80 73.50) rotate(-58)" text-anchor="end" font-size="5.7" fill="#111" stroke="#111" stroke-width="0.12">KEGG</text>
<text transform="translate(27.80 91.04) rotate(-58)" text-anchor="end" font-size="5.7" fill="#111" stroke="#111" stroke-width="0.12">GO Component</text>
<text transform="translate(27.80 108.56) rotate(-58)" text-anchor="end" font-size="5.7" fill="#111" stroke="#111" stroke-width="0.12">GO Function</text>
<text transform="translate(27.80 126.08) rotate(-58)" text-anchor="end" font-size="5.7" fill="#111" stroke="#111" stroke-width="0.12">GO Process</text>
<text x="133.7" y="174.2" text-anchor="middle" font-size="7.3" fill="#111" stroke="#111" stroke-width="0.1">observed gene count</text>
<text x="135.5" y="194.1" text-anchor="middle" font-size="9.7" fill="#000">(<tspan font-weight="bold">a</tspan>) FAA4</text>
<text x="248.6" y="20.9" text-anchor="middle" font-size="7.2" fill="#111">-log(P)</text>
<circle cx="248.6" cy="30" r="0.5" fill="#999"/>
<text x="262.5" y="32.0" font-size="5.1" fill="#222" stroke="#222" stroke-width="0.12">1</text>
<circle cx="248.6" cy="42.9" r="5" fill="none" stroke="#888" stroke-width="0.6"/>
<text x="262.5" y="44.9" font-size="5.1" fill="#222" stroke="#222" stroke-width="0.12">31</text>
<circle cx="248.6" cy="59.5" r="9.2" fill="none" stroke="#888" stroke-width="0.6"/>
<text x="262.5" y="61.5" font-size="5.1" fill="#222" stroke="#222" stroke-width="0.12">61</text>
<circle cx="248.6" cy="86" r="14" fill="none" stroke="#888" stroke-width="0.6"/>
<text x="262.5" y="88.0" font-size="5.1" fill="#222" stroke="#222" stroke-width="0.12">92</text>
<rect x="247.7" y="104.00" width="6.0" height="6.28" fill="#e8e8e8"/>
<rect x="247.7" y="109.98" width="6.0" height="6.28" fill="#7878e8"/>
<rect x="247.7" y="115.96" width="6.0" height="6.28" fill="#6aa8ee"/>
<rect x="247.7" y="121.95" width="6.0" height="6.28" fill="#48d8e6"/>
<rect x="247.7" y="127.93" width="6.0" height="6.28" fill="#40d880"/>
<rect x="247.7" y="133.91" width="6.0" height="6.28" fill="#98e070"/>
<rect x="247.7" y="139.89" width="6.0" height="6.28" fill="#d8ec78"/>
<rect x="247.7" y="145.87" width="6.0" height="6.28" fill="#f4e070"/>
<rect x="247.7" y="151.85" width="6.0" height="6.28" fill="#f8b080"/>
<rect x="247.7" y="157.84" width="6.0" height="6.28" fill="#f47878"/>
<rect x="247.7" y="163.82" width="6.0" height="6.28" fill="#666666"/>
<rect x="247.7" y="104" width="6.0" height="65.80000000000001" fill="none" stroke="#777" stroke-width="0.5"/>
<path d="M253.7 110h1.5" stroke="#555" stroke-width="0.5"/>
<text x="256.3" y="111.6" font-size="4.7" fill="#222" stroke="#222" stroke-width="0.08">91.50</text>
<path d="M253.7 116.7h1.5" stroke="#555" stroke-width="0.5"/>
<text x="256.3" y="118.3" font-size="4.7" fill="#222" stroke="#222" stroke-width="0.08">80.19</text>
<path d="M253.7 123.4h1.5" stroke="#555" stroke-width="0.5"/>
<text x="256.3" y="125.0" font-size="4.7" fill="#222" stroke="#222" stroke-width="0.08">68.88</text>
<path d="M253.7 130.1h1.5" stroke="#555" stroke-width="0.5"/>
<text x="256.3" y="131.7" font-size="4.7" fill="#222" stroke="#222" stroke-width="0.08">57.56</text>
<path d="M253.7 136.8h1.5" stroke="#555" stroke-width="0.5"/>
<text x="256.3" y="138.4" font-size="4.7" fill="#222" stroke="#222" stroke-width="0.08">46.25</text>
<path d="M253.7 143.4h1.5" stroke="#555" stroke-width="0.5"/>
<text x="256.3" y="145.0" font-size="4.7" fill="#222" stroke="#222" stroke-width="0.08">34.94</text>
<path d="M253.7 150.1h1.5" stroke="#555" stroke-width="0.5"/>
<text x="256.3" y="151.7" font-size="4.7" fill="#222" stroke="#222" stroke-width="0.08">23.63</text>
<path d="M253.7 156.8h1.5" stroke="#555" stroke-width="0.5"/>
<text x="256.3" y="158.4" font-size="4.7" fill="#222" stroke="#222" stroke-width="0.08">12.31</text>
<path d="M253.7 163.4h1.5" stroke="#555" stroke-width="0.5"/>
<text x="256.3" y="165.0" font-size="4.7" fill="#222" stroke="#222" stroke-width="0.08">1.000</text>
</g>
<g>
<path d="M313.3 2V152.2H516.8" fill="none" stroke="#3a3a3a" stroke-width="1.1"/>
<text x="331.30" y="162.40" text-anchor="middle" font-size="6.3" fill="#222">0</text>
<text x="368.40" y="162.40" text-anchor="middle" font-size="6.3" fill="#222">20</text>
<text x="405.50" y="162.40" text-anchor="middle" font-size="6.3" fill="#222">40</text>
<text x="442.60" y="162.40" text-anchor="middle" font-size="6.3" fill="#222">60</text>
<text x="479.70" y="162.40" text-anchor="middle" font-size="6.3" fill="#222">80</text>
<text x="516.80" y="162.40" text-anchor="middle" font-size="6.3" fill="#222">100</text>
<path d="M312.75 152.2v1.6 M331.30 152.2v3.0 M349.85 152.2v1.6 M368.40 152.2v3.0 M386.95 152.2v1.6 M405.50 152.2v3.0 M424.05 152.2v1.6 M442.60 152.2v3.0 M461.15 152.2v1.6 M479.70 152.2v3.0 M498.25 152.2v1.6 M516.80 152.2v3.0 M313.3 11.00h-1.6 M313.3 19.76h-3.0 M313.3 28.52h-1.6 M313.3 37.28h-3.0 M313.3 46.04h-1.6 M313.3 54.80h-3.0 M313.3 63.56h-1.6 M313.3 72.32h-3.0 M313.3 81.08h-1.6 M313.3 89.84h-3.0 M313.3 98.60h-1.6 M313.3 107.36h-3.0 M313.3 116.12h-1.6 M313.3 124.88h-3.0 M313.3 133.64h-1.6 M313.3 142.40h-3.0" stroke="#3a3a3a" stroke-width="1.0" fill="none"/>
<text transform="translate(308.80 20.96) rotate(-58)" text-anchor="end" font-size="5.7" fill="#111" stroke="#111" stroke-width="0.12">InterPro</text>
<text transform="translate(308.80 38.48) rotate(-58)" text-anchor="end" font-size="5.7" fill="#111" stroke="#111" stroke-width="0.12">COMPARTMENTS</text>
<text transform="translate(308.80 56.00) rotate(-58)" text-anchor="end" font-size="5.7" fill="#111" stroke="#111" stroke-width="0.12">Reactome</text>
<text transform="translate(308.80 73.50) rotate(-58)" text-anchor="end" font-size="5.7" fill="#111" stroke="#111" stroke-width="0.12">KEGG</text>
<text transform="translate(308.80 91.04) rotate(-58)" text-anchor="end" font-size="5.7" fill="#111" stroke="#111" stroke-width="0.12">GO Component</text>
<text transform="translate(308.80 108.56) rotate(-58)" text-anchor="end" font-size="5.7" fill="#111" stroke="#111" stroke-width="0.12">GO Function</text>
<text transform="translate(308.80 126.08) rotate(-58)" text-anchor="end" font-size="5.7" fill="#111" stroke="#111" stroke-width="0.12">GO Process</text>
<text x="415" y="175.1" text-anchor="middle" font-size="8.0" fill="#111" stroke="#111" stroke-width="0.1">observed gene count</text>
<text x="415" y="194.3" text-anchor="middle" font-size="10.1" fill="#000">(<tspan font-weight="bold">b</tspan>) Natoc_0297</text>
<text x="529.6" y="41.9" text-anchor="middle" font-size="7.2" fill="#111">-log(P)</text>
<circle cx="529.6" cy="47.2" r="0.5" fill="#999"/>
<text x="539" y="49.2" font-size="5.1" fill="#222" stroke="#222" stroke-width="0.12">1</text>
<circle cx="529.6" cy="56" r="2.6" fill="none" stroke="#888" stroke-width="0.6"/>
<text x="539" y="58.0" font-size="5.1" fill="#222" stroke="#222" stroke-width="0.12">11</text>
<circle cx="529.6" cy="69.8" r="5.6" fill="none" stroke="#888" stroke-width="0.6"/>
<text x="539" y="71.8" font-size="5.1" fill="#222" stroke="#222" stroke-width="0.12">21</text>
<circle cx="529.6" cy="89" r="8.5" fill="none" stroke="#888" stroke-width="0.6"/>
<text x="539" y="91.0" font-size="5.1" fill="#222" stroke="#222" stroke-width="0.12">30</text>
<rect x="528.7" y="103.50" width="5.7999999999999545" height="6.33" fill="#e8e8e8"/>
<rect x="528.7" y="109.53" width="5.7999999999999545" height="6.33" fill="#7878e8"/>
<rect x="528.7" y="115.55" width="5.7999999999999545" height="6.33" fill="#6aa8ee"/>
<rect x="528.7" y="121.58" width="5.7999999999999545" height="6.33" fill="#48d8e6"/>
<rect x="528.7" y="127.61" width="5.7999999999999545" height="6.33" fill="#40d880"/>
<rect x="528.7" y="133.64" width="5.7999999999999545" height="6.33" fill="#98e070"/>
<rect x="528.7" y="139.66" width="5.7999999999999545" height="6.33" fill="#d8ec78"/>
<rect x="528.7" y="145.69" width="5.7999999999999545" height="6.33" fill="#f4e070"/>
<rect x="528.7" y="151.72" width="5.7999999999999545" height="6.33" fill="#f8b080"/>
<rect x="528.7" y="157.75" width="5.7999999999999545" height="6.33" fill="#f47878"/>
<rect x="528.7" y="163.77" width="5.7999999999999545" height="6.33" fill="#666666"/>
<rect x="528.7" y="103.5" width="5.7999999999999545" height="66.30000000000001" fill="none" stroke="#777" stroke-width="0.5"/>
<path d="M534.5 110h1.5" stroke="#555" stroke-width="0.5"/>
<text x="537.1" y="111.6" font-size="4.7" fill="#222" stroke="#222" stroke-width="0.08">30.50</text>
<path d="M534.5 116.7h1.5" stroke="#555" stroke-width="0.5"/>
<text x="537.1" y="118.3" font-size="4.7" fill="#222" stroke="#222" stroke-width="0.08">26.85</text>
<path d="M534.5 123.4h1.5" stroke="#555" stroke-width="0.5"/>
<text x="537.1" y="125.0" font-size="4.7" fill="#222" stroke="#222" stroke-width="0.08">23.20</text>
<path d="M534.5 130.1h1.5" stroke="#555" stroke-width="0.5"/>
<text x="537.1" y="131.7" font-size="4.7" fill="#222" stroke="#222" stroke-width="0.08">19.55</text>
<path d="M534.5 136.8h1.5" stroke="#555" stroke-width="0.5"/>
<text x="537.1" y="138.4" font-size="4.7" fill="#222" stroke="#222" stroke-width="0.08">15.90</text>
<path d="M534.5 143.4h1.5" stroke="#555" stroke-width="0.5"/>
<text x="537.1" y="145.0" font-size="4.7" fill="#222" stroke="#222" stroke-width="0.08">12.25</text>
<path d="M534.5 150.1h1.5" stroke="#555" stroke-width="0.5"/>
<text x="537.1" y="151.7" font-size="4.7" fill="#222" stroke="#222" stroke-width="0.08">8.600</text>
<path d="M534.5 156.8h1.5" stroke="#555" stroke-width="0.5"/>
<text x="537.1" y="158.4" font-size="4.7" fill="#222" stroke="#222" stroke-width="0.08">4.950</text>
<path d="M534.5 163.4h1.5" stroke="#555" stroke-width="0.5"/>
<text x="537.1" y="165.0" font-size="4.7" fill="#222" stroke="#222" stroke-width="0.08">1.300</text>
</g>
<g>
<path d="M32.3 202V353.3H238.00000000000003" fill="none" stroke="#3a3a3a" stroke-width="1.1"/>
<text x="48.40" y="363.50" text-anchor="middle" font-size="6.6" fill="#222">0</text>
<text x="80.00" y="363.50" text-anchor="middle" font-size="6.6" fill="#222">20</text>
<text x="111.60" y="363.50" text-anchor="middle" font-size="6.6" fill="#222">40</text>
<text x="143.20" y="363.50" text-anchor="middle" font-size="6.6" fill="#222">60</text>
<text x="174.80" y="363.50" text-anchor="middle" font-size="6.6" fill="#222">80</text>
<text x="206.40" y="363.50" text-anchor="middle" font-size="6.6" fill="#222">100</text>
<text x="238.00" y="363.50" text-anchor="middle" font-size="6.6" fill="#222">120</text>
<path d="M32.60 353.3v1.6 M48.40 353.3v3.0 M64.20 353.3v1.6 M80.00 353.3v3.0 M95.80 353.3v1.6 M111.60 353.3v3.0 M127.40 353.3v1.6 M143.20 353.3v3.0 M159.00 353.3v1.6 M174.80 353.3v3.0 M190.60 353.3v1.6 M206.40 353.3v3.0 M222.20 353.3v1.6 M238.00 353.3v3.0 M32.3 204.50h-1.6 M32.3 214.88h-3.0 M32.3 225.26h-1.6 M32.3 235.64h-3.0 M32.3 246.02h-1.6 M32.3 256.40h-3.0 M32.3 266.78h-1.6 M32.3 277.16h-3.0 M32.3 287.54h-1.6 M32.3 297.92h-3.0 M32.3 308.30h-1.6 M32.3 318.68h-3.0 M32.3 329.06h-1.6 M32.3 339.44h-3.0 M32.3 349.82h-1.6" stroke="#3a3a3a" stroke-width="1.0" fill="none"/>
<text transform="translate(27.80 216.08) rotate(-58)" text-anchor="end" font-size="5.7" fill="#111" stroke="#111" stroke-width="0.12">STRING clusters</text>
<text transform="translate(27.80 236.84) rotate(-58)" text-anchor="end" font-size="5.7" fill="#111" stroke="#111" stroke-width="0.12">InterPro</text>
<text transform="translate(27.80 257.60) rotate(-58)" text-anchor="end" font-size="5.7" fill="#111" stroke="#111" stroke-width="0.12">Monarch</text>
<text transform="translate(27.80 278.36) rotate(-58)" text-anchor="end" font-size="5.7" fill="#111" stroke="#111" stroke-width="0.12">Reactome</text>
<text transform="translate(27.80 299.12) rotate(-58)" text-anchor="end" font-size="5.7" fill="#111" stroke="#111" stroke-width="0.12">GO Component</text>
<text transform="translate(27.80 319.88) rotate(-58)" text-anchor="end" font-size="5.7" fill="#111" stroke="#111" stroke-width="0.12">GO Process</text>
<text x="135.1" y="376.8" text-anchor="middle" font-size="8.0" fill="#111" stroke="#111" stroke-width="0.1">observed gene count</text>
<text x="135.5" y="394.3" text-anchor="middle" font-size="10.0" fill="#000">(<tspan font-weight="bold">c</tspan>) 16 items</text>
<text x="252.4" y="246.9" text-anchor="middle" font-size="7.2" fill="#111">-log(P)</text>
<circle cx="252.4" cy="252" r="0.5" fill="#999"/>
<text x="262" y="254.0" font-size="5.1" fill="#222" stroke="#222" stroke-width="0.12">1</text>
<circle cx="252.4" cy="259.6" r="2.8" fill="none" stroke="#888" stroke-width="0.6"/>
<text x="262" y="261.6" font-size="5.1" fill="#222" stroke="#222" stroke-width="0.12">11</text>
<circle cx="252.4" cy="272.8" r="6" fill="none" stroke="#888" stroke-width="0.6"/>
<text x="262" y="274.8" font-size="5.1" fill="#222" stroke="#222" stroke-width="0.12">21</text>
<circle cx="252.4" cy="290.8" r="8.7" fill="none" stroke="#888" stroke-width="0.6"/>
<text x="262" y="292.8" font-size="5.1" fill="#222" stroke="#222" stroke-width="0.12">31</text>
<rect x="250" y="304.00" width="5.699999999999989" height="6.37" fill="#e8e8e8"/>
<rect x="250" y="310.07" width="5.699999999999989" height="6.37" fill="#7878e8"/>
<rect x="250" y="316.15" width="5.699999999999989" height="6.37" fill="#6aa8ee"/>
<rect x="250" y="322.22" width="5.699999999999989" height="6.37" fill="#48d8e6"/>
<rect x="250" y="328.29" width="5.699999999999989" height="6.37" fill="#40d880"/>
<rect x="250" y="334.36" width="5.699999999999989" height="6.37" fill="#98e070"/>
<rect x="250" y="340.44" width="5.699999999999989" height="6.37" fill="#d8ec78"/>
<rect x="250" y="346.51" width="5.699999999999989" height="6.37" fill="#f4e070"/>
<rect x="250" y="352.58" width="5.699999999999989" height="6.37" fill="#f8b080"/>
<rect x="250" y="358.65" width="5.699999999999989" height="6.37" fill="#f47878"/>
<rect x="250" y="364.73" width="5.699999999999989" height="6.37" fill="#666666"/>
<rect x="250" y="304" width="5.699999999999989" height="66.80000000000001" fill="none" stroke="#777" stroke-width="0.5"/>
<path d="M255.7 311h1.5" stroke="#555" stroke-width="0.5"/>
<text x="258.3" y="312.6" font-size="4.7" fill="#222" stroke="#222" stroke-width="0.08">31.70</text>
<path d="M255.7 317.7h1.5" stroke="#555" stroke-width="0.5"/>
<text x="258.3" y="319.3" font-size="4.7" fill="#222" stroke="#222" stroke-width="0.08">27.90</text>
<path d="M255.7 324.4h1.5" stroke="#555" stroke-width="0.5"/>
<text x="258.3" y="326.0" font-size="4.7" fill="#222" stroke="#222" stroke-width="0.08">24.10</text>
<path d="M255.7 331.1h1.5" stroke="#555" stroke-width="0.5"/>
<text x="258.3" y="332.70000000000005" font-size="4.7" fill="#222" stroke="#222" stroke-width="0.08">20.30</text>
<path d="M255.7 337.8h1.5" stroke="#555" stroke-width="0.5"/>
<text x="258.3" y="339.40000000000003" font-size="4.7" fill="#222" stroke="#222" stroke-width="0.08">16.50</text>
<path d="M255.7 344.4h1.5" stroke="#555" stroke-width="0.5"/>
<text x="258.3" y="346.0" font-size="4.7" fill="#222" stroke="#222" stroke-width="0.08">12.70</text>
<path d="M255.7 351.1h1.5" stroke="#555" stroke-width="0.5"/>
<text x="258.3" y="352.70000000000005" font-size="4.7" fill="#222" stroke="#222" stroke-width="0.08">8.900</text>
<path d="M255.7 357.8h1.5" stroke="#555" stroke-width="0.5"/>
<text x="258.3" y="359.40000000000003" font-size="4.7" fill="#222" stroke="#222" stroke-width="0.08">5.100</text>
<path d="M255.7 364.4h1.5" stroke="#555" stroke-width="0.5"/>
<text x="258.3" y="366.0" font-size="4.7" fill="#222" stroke="#222" stroke-width="0.08">1.300</text>
</g>
<g>
<path d="M312 202V352.9H516.3" fill="none" stroke="#3a3a3a" stroke-width="1.1"/>
<text x="329.30" y="363.10" text-anchor="middle" font-size="6.6" fill="#222">0</text>
<text x="363.30" y="363.10" text-anchor="middle" font-size="6.6" fill="#222">50</text>
<text x="397.30" y="363.10" text-anchor="middle" font-size="6.6" fill="#222">100</text>
<text x="431.30" y="363.10" text-anchor="middle" font-size="6.6" fill="#222">150</text>
<text x="465.30" y="363.10" text-anchor="middle" font-size="6.6" fill="#222">200</text>
<text x="499.30" y="363.10" text-anchor="middle" font-size="6.6" fill="#222">250</text>
<path d="M312.30 352.9v1.6 M329.30 352.9v3.0 M346.30 352.9v1.6 M363.30 352.9v3.0 M380.30 352.9v1.6 M397.30 352.9v3.0 M414.30 352.9v1.6 M431.30 352.9v3.0 M448.30 352.9v1.6 M465.30 352.9v3.0 M482.30 352.9v1.6 M499.30 352.9v3.0 M516.30 352.9v1.6 M312 210.00h-1.6 M312 221.78h-3.0 M312 233.56h-1.6 M312 245.34h-3.0 M312 257.12h-1.6 M312 268.90h-3.0 M312 280.68h-1.6 M312 292.46h-3.0 M312 304.24h-1.6 M312 316.02h-3.0 M312 327.80h-1.6 M312 339.58h-3.0 M312 351.36h-1.6" stroke="#3a3a3a" stroke-width="1.0" fill="none"/>
<text transform="translate(307.50 222.90) rotate(-58)" text-anchor="end" font-size="5.7" fill="#111" stroke="#111" stroke-width="0.12">InterPro</text>
<text transform="translate(307.50 246.50) rotate(-58)" text-anchor="end" font-size="5.7" fill="#111" stroke="#111" stroke-width="0.12">Reactome</text>
<text transform="translate(307.50 270.00) rotate(-58)" text-anchor="end" font-size="5.7" fill="#111" stroke="#111" stroke-width="0.12">STRING clusters</text>
<text transform="translate(307.50 293.60) rotate(-58)" text-anchor="end" font-size="5.7" fill="#111" stroke="#111" stroke-width="0.12">GO Process</text>
<text transform="translate(307.50 317.10) rotate(-58)" text-anchor="end" font-size="5.7" fill="#111" stroke="#111" stroke-width="0.12">GO Process</text>
<text x="414" y="375.8" text-anchor="middle" font-size="8.0" fill="#111" stroke="#111" stroke-width="0.1">observed gene count</text>
<text x="415" y="394.3" text-anchor="middle" font-size="10.2" fill="#000">(<tspan font-weight="bold">d</tspan>) HOXA10</text>
<text x="530.4" y="245.9" text-anchor="middle" font-size="7.2" fill="#111">-log(P)</text>
<circle cx="530.4" cy="250.7" r="0.5" fill="#999"/>
<text x="540" y="252.7" font-size="5.1" fill="#222" stroke="#222" stroke-width="0.12">1</text>
<circle cx="530.4" cy="258.2" r="3.2" fill="none" stroke="#888" stroke-width="0.6"/>
<text x="540" y="260.2" font-size="5.1" fill="#222" stroke="#222" stroke-width="0.12">14</text>
<circle cx="530.4" cy="270.9" r="6" fill="none" stroke="#888" stroke-width="0.6"/>
<text x="540" y="272.9" font-size="5.1" fill="#222" stroke="#222" stroke-width="0.12">27</text>
<circle cx="530.4" cy="290.6" r="9" fill="none" stroke="#888" stroke-width="0.6"/>
<text x="540" y="292.6" font-size="5.1" fill="#222" stroke="#222" stroke-width="0.12">40</text>
<rect x="528.7" y="304.00" width="5.7999999999999545" height="6.34" fill="#e8e8e8"/>
<rect x="528.7" y="310.04" width="5.7999999999999545" height="6.34" fill="#7878e8"/>
<rect x="528.7" y="316.07" width="5.7999999999999545" height="6.34" fill="#6aa8ee"/>
<rect x="528.7" y="322.11" width="5.7999999999999545" height="6.34" fill="#48d8e6"/>
<rect x="528.7" y="328.15" width="5.7999999999999545" height="6.34" fill="#40d880"/>
<rect x="528.7" y="334.18" width="5.7999999999999545" height="6.34" fill="#98e070"/>
<rect x="528.7" y="340.22" width="5.7999999999999545" height="6.34" fill="#d8ec78"/>
<rect x="528.7" y="346.25" width="5.7999999999999545" height="6.34" fill="#f4e070"/>
<rect x="528.7" y="352.29" width="5.7999999999999545" height="6.34" fill="#f8b080"/>
<rect x="528.7" y="358.33" width="5.7999999999999545" height="6.34" fill="#f47878"/>
<rect x="528.7" y="364.36" width="5.7999999999999545" height="6.34" fill="#666666"/>
<rect x="528.7" y="304" width="5.7999999999999545" height="66.39999999999998" fill="none" stroke="#777" stroke-width="0.5"/>
<path d="M534.5 311h1.5" stroke="#555" stroke-width="0.5"/>
<text x="537.1" y="312.6" font-size="4.7" fill="#222" stroke="#222" stroke-width="0.08">40.20</text>
<path d="M534.5 317.7h1.5" stroke="#555" stroke-width="0.5"/>
<text x="537.1" y="319.3" font-size="4.7" fill="#222" stroke="#222" stroke-width="0.08">35.33</text>
<path d="M534.5 324.4h1.5" stroke="#555" stroke-width="0.5"/>
<text x="537.1" y="326.0" font-size="4.7" fill="#222" stroke="#222" stroke-width="0.08">30.45</text>
<path d="M534.5 331.1h1.5" stroke="#555" stroke-width="0.5"/>
<text x="537.1" y="332.70000000000005" font-size="4.7" fill="#222" stroke="#222" stroke-width="0.08">25.58</text>
<path d="M534.5 337.8h1.5" stroke="#555" stroke-width="0.5"/>
<text x="537.1" y="339.40000000000003" font-size="4.7" fill="#222" stroke="#222" stroke-width="0.08">20.70</text>
<path d="M534.5 344.4h1.5" stroke="#555" stroke-width="0.5"/>
<text x="537.1" y="346.0" font-size="4.7" fill="#222" stroke="#222" stroke-width="0.08">15.83</text>
<path d="M534.5 351.1h1.5" stroke="#555" stroke-width="0.5"/>
<text x="537.1" y="352.70000000000005" font-size="4.7" fill="#222" stroke="#222" stroke-width="0.08">10.95</text>
<path d="M534.5 357.8h1.5" stroke="#555" stroke-width="0.5"/>
<text x="537.1" y="359.40000000000003" font-size="4.7" fill="#222" stroke="#222" stroke-width="0.08">6.075</text>
<path d="M534.5 364.4h1.5" stroke="#555" stroke-width="0.5"/>
<text x="537.1" y="366.0" font-size="4.7" fill="#222" stroke="#222" stroke-width="0.08">1.200</text>
</g>
</svg></body></html>
